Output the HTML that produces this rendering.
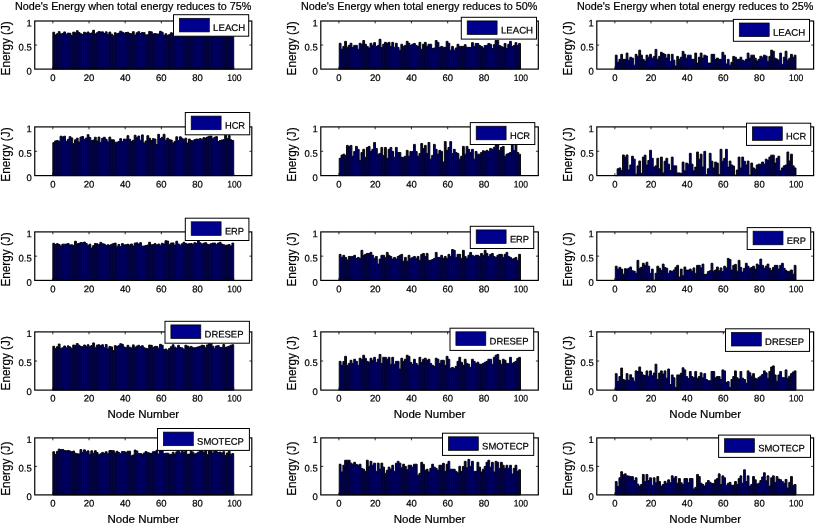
<!DOCTYPE html><html><head><meta charset="utf-8"><title>Node Energy</title><style>html,body{margin:0;padding:0;background:#fff}svg{display:block}text{font-family:"Liberation Sans",Arial,sans-serif;fill:#000;stroke:#000;stroke-width:0.22px}</style></head><body>
<svg width="815" height="527" viewBox="0 0 815 527">
<rect width="815" height="527" fill="#fff"/>
<defs><filter id="soft" x="0" y="0" width="815" height="527" filterUnits="userSpaceOnUse"><feGaussianBlur stdDeviation="0.35"/></filter></defs><g filter="url(#soft)">
<rect width="815" height="527" fill="#fff"/>
<path d="M52.84 69.10V32.26H54.65V34.95H56.45V33.75H58.26V31.63H60.07V33.94H61.88V33.51H63.69V31.92H65.50V34.13H67.31V33.12H69.12V33.27H70.93V35.43H72.73V32.11H74.54V32.74H76.35V30.76H78.16V32.50H79.97V33.75H81.78V34.42H83.59V32.26H85.40V33.12H87.20V31.97H89.01V33.55H90.82V32.98H92.63V30.28H94.44V33.99H96.25V32.74H98.06V31.53H99.87V31.97H101.67V31.87H103.48V33.51H105.29V31.87H107.10V34.32H108.91V32.11H110.72V34.13H112.53V35.77H114.34V32.74H116.14V33.75H117.95V33.12H119.76V31.15H121.57V32.11H123.38V33.31H125.19V32.50H127.00V32.30H128.81V33.51H130.61V33.75H132.42V31.68H134.23V35.09H136.04V32.83H137.85V31.68H139.66V33.51H141.47V32.50H143.28V32.64H145.08V34.90H146.89V34.76H148.70V31.44H150.51V31.87H152.32V33.99H154.13V33.51H155.94V33.94H157.75V33.99H159.55V31.29H161.36V32.26H163.17V35.43H164.98V33.75H166.79V35.62H168.60V34.61H170.41V32.74H172.22V33.41H174.02V33.75H175.83V33.75H177.64V32.98H179.45V34.13H181.26V34.28H183.07V33.99H184.88V31.77H186.69V33.55H188.49V32.30H190.30V32.30H192.11V33.31H193.92V34.04H195.73V34.13H197.54V33.02H199.35V33.12H201.16V32.30H202.96V32.64H204.77V34.61H206.58V32.83H208.39V30.76H210.20V30.91H212.01V33.31H213.82V33.70H215.62V34.13H217.43V31.97H219.24V35.09H221.05V32.83H222.86V31.10H224.67V33.89H226.48V33.31H228.29V31.97H230.09V33.17H231.90V32.30H233.71V69.10Z" fill="#050570" stroke="#000000" stroke-width="0.95" stroke-linejoin="miter"/>
<path d="M54.65 69.10V34.95M56.45 69.10V34.95M58.26 69.10V33.75M60.07 69.10V33.94M61.88 69.10V33.94M63.69 69.10V33.51M65.50 69.10V34.13M67.31 69.10V34.13M69.12 69.10V33.27M70.93 69.10V35.43M72.73 69.10V35.43M74.54 69.10V32.74M76.35 69.10V32.74M78.16 69.10V32.50M79.97 69.10V33.75M81.78 69.10V34.42M83.59 69.10V34.42M85.40 69.10V33.12M87.20 69.10V33.12M89.01 69.10V33.55M90.82 69.10V33.55M92.63 69.10V32.98M94.44 69.10V33.99M96.25 69.10V33.99M98.06 69.10V32.74M99.87 69.10V31.97M101.67 69.10V31.97M103.48 69.10V33.51M105.29 69.10V33.51M107.10 69.10V34.32M108.91 69.10V34.32M110.72 69.10V34.13M112.53 69.10V35.77M114.34 69.10V35.77M116.14 69.10V33.75M117.95 69.10V33.75M119.76 69.10V33.12M121.57 69.10V32.11M123.38 69.10V33.31M125.19 69.10V33.31M127.00 69.10V32.50M128.81 69.10V33.51M130.61 69.10V33.75M132.42 69.10V33.75M134.23 69.10V35.09M136.04 69.10V35.09M137.85 69.10V32.83M139.66 69.10V33.51M141.47 69.10V33.51M143.28 69.10V32.64M145.08 69.10V34.90M146.89 69.10V34.90M148.70 69.10V34.76M150.51 69.10V31.87M152.32 69.10V33.99M154.13 69.10V33.99M155.94 69.10V33.94M157.75 69.10V33.99M159.55 69.10V33.99M161.36 69.10V32.26M163.17 69.10V35.43M164.98 69.10V35.43M166.79 69.10V35.62M168.60 69.10V35.62M170.41 69.10V34.61M172.22 69.10V33.41M174.02 69.10V33.75M175.83 69.10V33.75M177.64 69.10V33.75M179.45 69.10V34.13M181.26 69.10V34.28M183.07 69.10V34.28M184.88 69.10V33.99M186.69 69.10V33.55M188.49 69.10V33.55M190.30 69.10V32.30M192.11 69.10V33.31M193.92 69.10V34.04M195.73 69.10V34.13M197.54 69.10V34.13M199.35 69.10V33.12M201.16 69.10V33.12M202.96 69.10V32.64M204.77 69.10V34.61M206.58 69.10V34.61M208.39 69.10V32.83M210.20 69.10V30.91M212.01 69.10V33.31M213.82 69.10V33.70M215.62 69.10V34.13M217.43 69.10V34.13M219.24 69.10V35.09M221.05 69.10V35.09M222.86 69.10V32.83M224.67 69.10V33.89M226.48 69.10V33.89M228.29 69.10V33.31M230.09 69.10V33.17M231.90 69.10V33.17" fill="none" stroke="#000000" stroke-width="0.55"/>
<rect x="34.75" y="21.00" width="217.05" height="48.10" fill="none" stroke="#000" stroke-width="1.2"/>
<path d="M52.84 69.10v-2.4M52.84 21.00v2.4M89.01 69.10v-2.4M89.01 21.00v2.4M125.19 69.10v-2.4M125.19 21.00v2.4M161.36 69.10v-2.4M161.36 21.00v2.4M197.54 69.10v-2.4M197.54 21.00v2.4M233.71 69.10v-2.4M233.71 21.00v2.4M34.75 45.05h2.4M251.80 45.05h-2.4" stroke="#000" stroke-width="0.8" fill="none"/>
<text transform="translate(52.84,81.00) rotate(0.03) scale(1,1)" font-size="9.5" text-anchor="middle">0</text>
<text transform="translate(89.01,81.00) rotate(0.03) scale(1,1)" font-size="9.5" text-anchor="middle">20</text>
<text transform="translate(125.19,81.00) rotate(0.03) scale(1,1)" font-size="9.5" text-anchor="middle">40</text>
<text transform="translate(161.36,81.00) rotate(0.03) scale(1,1)" font-size="9.5" text-anchor="middle">60</text>
<text transform="translate(197.54,81.00) rotate(0.03) scale(1,1)" font-size="9.5" text-anchor="middle">80</text>
<text transform="translate(234.41,81.00) rotate(0.03) scale(0.9,1)" font-size="9.5" text-anchor="middle">100</text>
<text transform="translate(31.75,74.50) rotate(0.03) scale(1,1)" font-size="9.5" text-anchor="end">0</text>
<text transform="translate(31.75,50.45) rotate(0.03) scale(1,1)" font-size="9.5" text-anchor="end">0.5</text>
<text transform="translate(31.75,26.40) rotate(0.03) scale(1,1)" font-size="9.5" text-anchor="end">1</text>
<text transform="translate(10.45,48.35) rotate(-90.02)" font-size="12.3" text-anchor="middle" textLength="54.2" lengthAdjust="spacingAndGlyphs">Energy (J)</text>
<text transform="translate(14.95,10.10) rotate(0.02)" font-size="10.8" textLength="236.4" lengthAdjust="spacingAndGlyphs">Node's Energy when total energy reduces to 75%</text>
<rect x="173.50" y="14.70" width="75.20" height="21.50" fill="#fff" stroke="#000" stroke-width="1"/>
<rect x="179.40" y="18.30" width="29.9" height="13.6" fill="#00008f" stroke="#000" stroke-width="0.7"/>
<text transform="translate(213.10,31.00) rotate(0.03)" font-size="9.5" textLength="32.2" lengthAdjust="spacingAndGlyphs">LEACH</text>
<path d="M52.84 175.60V142.63H54.65V140.93H56.45V140.54H58.26V141.27H60.07V136.20H61.88V136.88H63.69V136.20H65.50V141.41H67.31V139.37H69.12V136.64H70.93V137.91H72.73V143.65H74.54V139.81H76.35V138.20H78.16V142.09H79.97V137.08H81.78V136.49H83.59V139.37H85.40V138.10H87.20V134.69H89.01V137.52H90.82V140.39H92.63V140.05H94.44V137.27H96.25V141.02H98.06V137.08H99.87V142.44H101.67V138.25H103.48V137.27H105.29V139.27H107.10V141.75H108.91V137.08H110.72V139.81H112.53V139.81H114.34V142.19H116.14V142.19H117.95V141.56H119.76V138.64H121.57V141.56H123.38V139.07H125.19V139.27H127.00V135.67H128.81V139.27H130.61V141.56H132.42V140.24H134.23V135.23H136.04V137.66H137.85V136.06H139.66V140.24H141.47V134.89H143.28V143.02H145.08V141.02H146.89V135.67H148.70V138.25H150.51V140.54H152.32V138.64H154.13V139.07H155.94V144.48H157.75V134.30H159.55V138.49H161.36V137.27H163.17V134.30H164.98V140.24H166.79V138.20H168.60V139.66H170.41V140.05H172.22V143.02H174.02V141.41H175.83V136.79H177.64V140.54H179.45V136.79H181.26V138.25H183.07V139.66H184.88V138.20H186.69V143.02H188.49V139.07H190.30V140.54H192.11V140.78H193.92V139.66H195.73V139.07H197.54V139.27H199.35V138.64H201.16V139.27H202.96V137.66H204.77V138.10H206.58V137.08H208.39V136.25H210.20V136.10H212.01V138.78H213.82V137.27H215.62V136.64H217.43V141.56H219.24V140.54H221.05V140.05H222.86V139.66H224.67V135.23H226.48V138.44H228.29V135.57H230.09V139.81H231.90V140.54H233.71V175.60Z" fill="#050570" stroke="#000000" stroke-width="0.95" stroke-linejoin="miter"/>
<path d="M54.65 175.60V142.63M56.45 175.60V140.93M58.26 175.60V141.27M60.07 175.60V141.27M61.88 175.60V136.88M63.69 175.60V136.88M65.50 175.60V141.41M67.31 175.60V141.41M69.12 175.60V139.37M70.93 175.60V137.91M72.73 175.60V143.65M74.54 175.60V143.65M76.35 175.60V139.81M78.16 175.60V142.09M79.97 175.60V142.09M81.78 175.60V137.08M83.59 175.60V139.37M85.40 175.60V139.37M87.20 175.60V138.10M89.01 175.60V137.52M90.82 175.60V140.39M92.63 175.60V140.39M94.44 175.60V140.05M96.25 175.60V141.02M98.06 175.60V141.02M99.87 175.60V142.44M101.67 175.60V142.44M103.48 175.60V138.25M105.29 175.60V139.27M107.10 175.60V141.75M108.91 175.60V141.75M110.72 175.60V139.81M112.53 175.60V139.81M114.34 175.60V142.19M116.14 175.60V142.19M117.95 175.60V142.19M119.76 175.60V141.56M121.57 175.60V141.56M123.38 175.60V141.56M125.19 175.60V139.27M127.00 175.60V139.27M128.81 175.60V139.27M130.61 175.60V141.56M132.42 175.60V141.56M134.23 175.60V140.24M136.04 175.60V137.66M137.85 175.60V137.66M139.66 175.60V140.24M141.47 175.60V140.24M143.28 175.60V143.02M145.08 175.60V143.02M146.89 175.60V141.02M148.70 175.60V138.25M150.51 175.60V140.54M152.32 175.60V140.54M154.13 175.60V139.07M155.94 175.60V144.48M157.75 175.60V144.48M159.55 175.60V138.49M161.36 175.60V138.49M163.17 175.60V137.27M164.98 175.60V140.24M166.79 175.60V140.24M168.60 175.60V139.66M170.41 175.60V140.05M172.22 175.60V143.02M174.02 175.60V143.02M175.83 175.60V141.41M177.64 175.60V140.54M179.45 175.60V140.54M181.26 175.60V138.25M183.07 175.60V139.66M184.88 175.60V139.66M186.69 175.60V143.02M188.49 175.60V143.02M190.30 175.60V140.54M192.11 175.60V140.78M193.92 175.60V140.78M195.73 175.60V139.66M197.54 175.60V139.27M199.35 175.60V139.27M201.16 175.60V139.27M202.96 175.60V139.27M204.77 175.60V138.10M206.58 175.60V138.10M208.39 175.60V137.08M210.20 175.60V136.25M212.01 175.60V138.78M213.82 175.60V138.78M215.62 175.60V137.27M217.43 175.60V141.56M219.24 175.60V141.56M221.05 175.60V140.54M222.86 175.60V140.05M224.67 175.60V139.66M226.48 175.60V138.44M228.29 175.60V138.44M230.09 175.60V139.81M231.90 175.60V140.54" fill="none" stroke="#000000" stroke-width="0.55"/>
<rect x="34.75" y="126.90" width="217.05" height="48.70" fill="none" stroke="#000" stroke-width="1.2"/>
<path d="M52.84 175.60v-2.4M52.84 126.90v2.4M89.01 175.60v-2.4M89.01 126.90v2.4M125.19 175.60v-2.4M125.19 126.90v2.4M161.36 175.60v-2.4M161.36 126.90v2.4M197.54 175.60v-2.4M197.54 126.90v2.4M233.71 175.60v-2.4M233.71 126.90v2.4M34.75 151.25h2.4M251.80 151.25h-2.4" stroke="#000" stroke-width="0.8" fill="none"/>
<text transform="translate(52.84,187.50) rotate(0.03) scale(1,1)" font-size="9.5" text-anchor="middle">0</text>
<text transform="translate(89.01,187.50) rotate(0.03) scale(1,1)" font-size="9.5" text-anchor="middle">20</text>
<text transform="translate(125.19,187.50) rotate(0.03) scale(1,1)" font-size="9.5" text-anchor="middle">40</text>
<text transform="translate(161.36,187.50) rotate(0.03) scale(1,1)" font-size="9.5" text-anchor="middle">60</text>
<text transform="translate(197.54,187.50) rotate(0.03) scale(1,1)" font-size="9.5" text-anchor="middle">80</text>
<text transform="translate(234.41,187.50) rotate(0.03) scale(0.9,1)" font-size="9.5" text-anchor="middle">100</text>
<text transform="translate(31.75,181.00) rotate(0.03) scale(1,1)" font-size="9.5" text-anchor="end">0</text>
<text transform="translate(31.75,156.65) rotate(0.03) scale(1,1)" font-size="9.5" text-anchor="end">0.5</text>
<text transform="translate(31.75,132.30) rotate(0.03) scale(1,1)" font-size="9.5" text-anchor="end">1</text>
<text transform="translate(10.45,154.55) rotate(-90.02)" font-size="12.3" text-anchor="middle" textLength="54.2" lengthAdjust="spacingAndGlyphs">Energy (J)</text>
<rect x="185.30" y="112.50" width="64.40" height="22.30" fill="#fff" stroke="#000" stroke-width="1"/>
<rect x="191.20" y="116.10" width="29.9" height="13.6" fill="#00008f" stroke="#000" stroke-width="0.7"/>
<text transform="translate(224.90,128.80) rotate(0.03)" font-size="9.5" textLength="20.2" lengthAdjust="spacingAndGlyphs">HCR</text>
<path d="M52.84 280.40V243.25H54.65V244.51H56.45V243.64H58.26V244.46H60.07V245.97H61.88V244.17H63.69V244.22H65.50V244.12H67.31V243.59H69.12V245.00H70.93V244.80H72.73V245.43H74.54V241.26H76.35V243.83H78.16V243.39H79.97V242.52H81.78V242.86H83.59V242.09H85.40V243.49H87.20V245.43H89.01V244.22H90.82V248.00H92.63V245.63H94.44V243.49H96.25V243.83H98.06V244.70H99.87V242.38H101.67V243.69H103.48V244.12H105.29V245.63H107.10V244.75H108.91V245.33H110.72V244.36H112.53V243.64H114.34V243.10H116.14V246.74H117.95V244.46H119.76V246.55H121.57V243.59H123.38V244.90H125.19V244.66H127.00V244.22H128.81V245.09H130.61V244.03H132.42V245.92H134.23V243.10H136.04V242.86H137.85V244.03H139.66V242.67H141.47V246.11H143.28V246.06H145.08V245.43H146.89V245.00H148.70V242.28H150.51V244.80H152.32V244.61H154.13V243.59H155.94V244.95H157.75V244.03H159.55V245.14H161.36V243.25H163.17V244.03H164.98V240.73H166.79V241.12H168.60V244.66H170.41V243.10H172.22V242.91H174.02V245.09H175.83V241.26H177.64V243.98H179.45V245.24H181.26V243.83H183.07V242.28H184.88V243.49H186.69V244.12H188.49V243.69H190.30V243.49H192.11V244.22H193.92V242.67H195.73V243.35H197.54V241.07H199.35V242.86H201.16V244.12H202.96V243.25H204.77V242.67H206.58V244.12H208.39V244.70H210.20V243.69H212.01V243.10H213.82V243.10H215.62V244.46H217.43V243.10H219.24V242.28H221.05V244.12H222.86V244.70H224.67V245.33H226.48V245.09H228.29V244.61H230.09V246.06H231.90V243.10H233.71V280.40Z" fill="#050570" stroke="#000000" stroke-width="0.95" stroke-linejoin="miter"/>
<path d="M54.65 280.40V244.51M56.45 280.40V244.51M58.26 280.40V244.46M60.07 280.40V245.97M61.88 280.40V245.97M63.69 280.40V244.22M65.50 280.40V244.22M67.31 280.40V244.12M69.12 280.40V245.00M70.93 280.40V245.00M72.73 280.40V245.43M74.54 280.40V245.43M76.35 280.40V243.83M78.16 280.40V243.83M79.97 280.40V243.39M81.78 280.40V242.86M83.59 280.40V242.86M85.40 280.40V243.49M87.20 280.40V245.43M89.01 280.40V245.43M90.82 280.40V248.00M92.63 280.40V248.00M94.44 280.40V245.63M96.25 280.40V243.83M98.06 280.40V244.70M99.87 280.40V244.70M101.67 280.40V243.69M103.48 280.40V244.12M105.29 280.40V245.63M107.10 280.40V245.63M108.91 280.40V245.33M110.72 280.40V245.33M112.53 280.40V244.36M114.34 280.40V243.64M116.14 280.40V246.74M117.95 280.40V246.74M119.76 280.40V246.55M121.57 280.40V246.55M123.38 280.40V244.90M125.19 280.40V244.90M127.00 280.40V244.66M128.81 280.40V245.09M130.61 280.40V245.09M132.42 280.40V245.92M134.23 280.40V245.92M136.04 280.40V243.10M137.85 280.40V244.03M139.66 280.40V244.03M141.47 280.40V246.11M143.28 280.40V246.11M145.08 280.40V246.06M146.89 280.40V245.43M148.70 280.40V245.00M150.51 280.40V244.80M152.32 280.40V244.80M154.13 280.40V244.61M155.94 280.40V244.95M157.75 280.40V244.95M159.55 280.40V245.14M161.36 280.40V245.14M163.17 280.40V244.03M164.98 280.40V244.03M166.79 280.40V241.12M168.60 280.40V244.66M170.41 280.40V244.66M172.22 280.40V243.10M174.02 280.40V245.09M175.83 280.40V245.09M177.64 280.40V243.98M179.45 280.40V245.24M181.26 280.40V245.24M183.07 280.40V243.83M184.88 280.40V243.49M186.69 280.40V244.12M188.49 280.40V244.12M190.30 280.40V243.69M192.11 280.40V244.22M193.92 280.40V244.22M195.73 280.40V243.35M197.54 280.40V243.35M199.35 280.40V242.86M201.16 280.40V244.12M202.96 280.40V244.12M204.77 280.40V243.25M206.58 280.40V244.12M208.39 280.40V244.70M210.20 280.40V244.70M212.01 280.40V243.69M213.82 280.40V243.10M215.62 280.40V244.46M217.43 280.40V244.46M219.24 280.40V243.10M221.05 280.40V244.12M222.86 280.40V244.70M224.67 280.40V245.33M226.48 280.40V245.33M228.29 280.40V245.09M230.09 280.40V246.06M231.90 280.40V246.06" fill="none" stroke="#000000" stroke-width="0.55"/>
<rect x="34.75" y="231.90" width="217.05" height="48.50" fill="none" stroke="#000" stroke-width="1.2"/>
<path d="M52.84 280.40v-2.4M52.84 231.90v2.4M89.01 280.40v-2.4M89.01 231.90v2.4M125.19 280.40v-2.4M125.19 231.90v2.4M161.36 280.40v-2.4M161.36 231.90v2.4M197.54 280.40v-2.4M197.54 231.90v2.4M233.71 280.40v-2.4M233.71 231.90v2.4M34.75 256.15h2.4M251.80 256.15h-2.4" stroke="#000" stroke-width="0.8" fill="none"/>
<text transform="translate(52.84,292.30) rotate(0.03) scale(1,1)" font-size="9.5" text-anchor="middle">0</text>
<text transform="translate(89.01,292.30) rotate(0.03) scale(1,1)" font-size="9.5" text-anchor="middle">20</text>
<text transform="translate(125.19,292.30) rotate(0.03) scale(1,1)" font-size="9.5" text-anchor="middle">40</text>
<text transform="translate(161.36,292.30) rotate(0.03) scale(1,1)" font-size="9.5" text-anchor="middle">60</text>
<text transform="translate(197.54,292.30) rotate(0.03) scale(1,1)" font-size="9.5" text-anchor="middle">80</text>
<text transform="translate(234.41,292.30) rotate(0.03) scale(0.9,1)" font-size="9.5" text-anchor="middle">100</text>
<text transform="translate(31.75,285.80) rotate(0.03) scale(1,1)" font-size="9.5" text-anchor="end">0</text>
<text transform="translate(31.75,261.55) rotate(0.03) scale(1,1)" font-size="9.5" text-anchor="end">0.5</text>
<text transform="translate(31.75,237.30) rotate(0.03) scale(1,1)" font-size="9.5" text-anchor="end">1</text>
<text transform="translate(10.45,259.45) rotate(-90.02)" font-size="12.3" text-anchor="middle" textLength="54.2" lengthAdjust="spacingAndGlyphs">Energy (J)</text>
<rect x="185.30" y="218.20" width="63.60" height="22.30" fill="#fff" stroke="#000" stroke-width="1"/>
<rect x="191.20" y="221.80" width="29.9" height="13.6" fill="#00008f" stroke="#000" stroke-width="0.7"/>
<text transform="translate(224.90,234.50) rotate(0.03)" font-size="9.5" textLength="19.2" lengthAdjust="spacingAndGlyphs">ERP</text>
<path d="M52.84 390.10V346.22H54.65V348.55H56.45V346.74H58.26V344.06H60.07V348.20H61.88V347.85H63.69V345.98H65.50V347.85H67.31V345.87H69.12V346.92H70.93V348.43H72.73V345.00H74.54V345.40H76.35V343.60H78.16V345.23H79.97V346.45H81.78V346.74H83.59V345.00H85.40V346.39H87.20V344.76H89.01V346.80H90.82V345.58H92.63V342.90H94.44V347.73H96.25V345.11H98.06V344.76H99.87V345.75H101.67V344.76H103.48V347.73H105.29V344.47H107.10V348.78H108.91V346.45H110.72V346.92H112.53V350.47H114.34V345.64H116.14V346.45H117.95V345.64H119.76V343.71H121.57V344.35H123.38V346.97H125.19V347.73H127.00V345.34H128.81V347.21H130.61V347.90H132.42V344.88H134.23V347.26H136.04V346.16H137.85V345.29H139.66V346.68H141.47V345.69H143.28V347.73H145.08V348.37H146.89V348.66H148.70V345.05H150.51V345.34H152.32V347.44H154.13V346.45H155.94V346.45H157.75V348.20H159.55V344.35H161.36V345.23H163.17V349.42H164.98V349.07H166.79V350.17H168.60V348.43H170.41V346.68H172.22V344.76H174.02V347.15H175.83V348.08H177.64V345.34H179.45V347.50H181.26V347.90H183.07V349.30H184.88V345.23H186.69V346.10H188.49V347.15H190.30V346.45H192.11V347.73H193.92V347.85H195.73V347.38H197.54V346.86H199.35V346.33H201.16V345.23H202.96V345.58H204.77V347.73H206.58V344.88H208.39V343.60H210.20V343.19H212.01V346.16H213.82V348.20H215.62V345.93H217.43V345.64H219.24V347.38H221.05V347.44H222.86V344.59H224.67V347.50H226.48V346.86H228.29V346.22H230.09V345.23H231.90V344.76H233.71V390.10Z" fill="#050570" stroke="#000000" stroke-width="0.95" stroke-linejoin="miter"/>
<path d="M54.65 390.10V348.55M56.45 390.10V348.55M58.26 390.10V346.74M60.07 390.10V348.20M61.88 390.10V348.20M63.69 390.10V347.85M65.50 390.10V347.85M67.31 390.10V347.85M69.12 390.10V346.92M70.93 390.10V348.43M72.73 390.10V348.43M74.54 390.10V345.40M76.35 390.10V345.40M78.16 390.10V345.23M79.97 390.10V346.45M81.78 390.10V346.74M83.59 390.10V346.74M85.40 390.10V346.39M87.20 390.10V346.39M89.01 390.10V346.80M90.82 390.10V346.80M92.63 390.10V345.58M94.44 390.10V347.73M96.25 390.10V347.73M98.06 390.10V345.11M99.87 390.10V345.75M101.67 390.10V345.75M103.48 390.10V347.73M105.29 390.10V347.73M107.10 390.10V348.78M108.91 390.10V348.78M110.72 390.10V346.92M112.53 390.10V350.47M114.34 390.10V350.47M116.14 390.10V346.45M117.95 390.10V346.45M119.76 390.10V345.64M121.57 390.10V344.35M123.38 390.10V346.97M125.19 390.10V347.73M127.00 390.10V347.73M128.81 390.10V347.21M130.61 390.10V347.90M132.42 390.10V347.90M134.23 390.10V347.26M136.04 390.10V347.26M137.85 390.10V346.16M139.66 390.10V346.68M141.47 390.10V346.68M143.28 390.10V347.73M145.08 390.10V348.37M146.89 390.10V348.66M148.70 390.10V348.66M150.51 390.10V345.34M152.32 390.10V347.44M154.13 390.10V347.44M155.94 390.10V346.45M157.75 390.10V348.20M159.55 390.10V348.20M161.36 390.10V345.23M163.17 390.10V349.42M164.98 390.10V349.42M166.79 390.10V350.17M168.60 390.10V350.17M170.41 390.10V348.43M172.22 390.10V346.68M174.02 390.10V347.15M175.83 390.10V348.08M177.64 390.10V348.08M179.45 390.10V347.50M181.26 390.10V347.90M183.07 390.10V349.30M184.88 390.10V349.30M186.69 390.10V346.10M188.49 390.10V347.15M190.30 390.10V347.15M192.11 390.10V347.73M193.92 390.10V347.85M195.73 390.10V347.85M197.54 390.10V347.38M199.35 390.10V346.86M201.16 390.10V346.33M202.96 390.10V345.58M204.77 390.10V347.73M206.58 390.10V347.73M208.39 390.10V344.88M210.20 390.10V343.60M212.01 390.10V346.16M213.82 390.10V348.20M215.62 390.10V348.20M217.43 390.10V345.93M219.24 390.10V347.38M221.05 390.10V347.44M222.86 390.10V347.44M224.67 390.10V347.50M226.48 390.10V347.50M228.29 390.10V346.86M230.09 390.10V346.22M231.90 390.10V345.23" fill="none" stroke="#000000" stroke-width="0.55"/>
<rect x="34.75" y="331.90" width="217.05" height="58.20" fill="none" stroke="#000" stroke-width="1.2"/>
<path d="M52.84 390.10v-2.4M52.84 331.90v2.4M89.01 390.10v-2.4M89.01 331.90v2.4M125.19 390.10v-2.4M125.19 331.90v2.4M161.36 390.10v-2.4M161.36 331.90v2.4M197.54 390.10v-2.4M197.54 331.90v2.4M233.71 390.10v-2.4M233.71 331.90v2.4M34.75 361.00h2.4M251.80 361.00h-2.4" stroke="#000" stroke-width="0.8" fill="none"/>
<text transform="translate(52.84,401.60) rotate(0.03) scale(1,1)" font-size="9.5" text-anchor="middle">0</text>
<text transform="translate(89.01,401.60) rotate(0.03) scale(1,1)" font-size="9.5" text-anchor="middle">20</text>
<text transform="translate(125.19,401.60) rotate(0.03) scale(1,1)" font-size="9.5" text-anchor="middle">40</text>
<text transform="translate(161.36,401.60) rotate(0.03) scale(1,1)" font-size="9.5" text-anchor="middle">60</text>
<text transform="translate(197.54,401.60) rotate(0.03) scale(1,1)" font-size="9.5" text-anchor="middle">80</text>
<text transform="translate(234.41,401.60) rotate(0.03) scale(0.9,1)" font-size="9.5" text-anchor="middle">100</text>
<text transform="translate(31.75,395.10) rotate(0.03) scale(1,1)" font-size="9.5" text-anchor="end">0</text>
<text transform="translate(31.75,366.00) rotate(0.03) scale(1,1)" font-size="9.5" text-anchor="end">0.5</text>
<text transform="translate(31.75,336.90) rotate(0.03) scale(1,1)" font-size="9.5" text-anchor="end">1</text>
<text transform="translate(10.45,363.30) rotate(-90.02)" font-size="12.3" text-anchor="middle" textLength="54.2" lengthAdjust="spacingAndGlyphs">Energy (J)</text>
<text transform="translate(143.28,418.30) rotate(0.02)" font-size="11.5" text-anchor="middle" textLength="71.7" lengthAdjust="spacingAndGlyphs">Node Number</text>
<rect x="165.00" y="321.30" width="84.40" height="21.90" fill="#fff" stroke="#000" stroke-width="1"/>
<rect x="170.90" y="324.90" width="29.9" height="13.6" fill="#00008f" stroke="#000" stroke-width="0.7"/>
<text transform="translate(204.60,337.60) rotate(0.03)" font-size="9.5" textLength="38.9" lengthAdjust="spacingAndGlyphs">DRESEP</text>
<path d="M52.84 494.90V451.75H54.65V454.49H56.45V451.41H58.26V449.13H60.07V449.64H61.88V449.47H63.69V450.55H65.50V450.84H67.31V450.44H69.12V451.01H70.93V451.86H72.73V451.12H74.54V453.23H76.35V453.75H78.16V454.03H79.97V449.58H81.78V452.26H83.59V449.87H85.40V451.86H87.20V450.84H89.01V454.14H90.82V450.84H92.63V453.23H94.44V450.67H96.25V452.49H98.06V454.77H99.87V453.75H101.67V452.44H103.48V453.29H105.29V451.75H107.10V453.75H108.91V450.55H110.72V450.50H112.53V450.67H114.34V452.95H116.14V451.24H117.95V452.49H119.76V453.63H121.57V451.52H123.38V451.52H125.19V452.66H127.00V451.24H128.81V451.24H130.61V455.80H132.42V455.00H134.23V450.10H136.04V450.95H137.85V453.52H139.66V453.52H141.47V454.43H143.28V453.00H145.08V451.58H146.89V452.61H148.70V453.06H150.51V453.57H152.32V451.75H154.13V451.52H155.94V450.27H157.75V454.03H159.55V450.78H161.36V450.38H163.17V453.63H164.98V453.29H166.79V453.18H168.60V454.14H170.41V454.49H172.22V452.26H174.02V454.03H175.83V451.81H177.64V450.10H179.45V452.95H181.26V448.62H183.07V452.26H184.88V450.10H186.69V454.32H188.49V454.03H190.30V450.44H192.11V452.21H193.92V454.09H195.73V453.29H197.54V452.15H199.35V450.50H201.16V449.30H202.96V452.32H204.77V450.33H206.58V454.43H208.39V450.38H210.20V450.33H212.01V452.95H213.82V450.44H215.62V451.58H217.43V452.49H219.24V452.04H221.05V453.06H222.86V451.69H224.67V455.28H226.48V452.95H228.29V451.18H230.09V454.14H231.90V453.63H233.71V494.90Z" fill="#050570" stroke="#000000" stroke-width="0.95" stroke-linejoin="miter"/>
<path d="M54.65 494.90V454.49M56.45 494.90V454.49M58.26 494.90V451.41M60.07 494.90V449.64M61.88 494.90V449.64M63.69 494.90V450.55M65.50 494.90V450.84M67.31 494.90V450.84M69.12 494.90V451.01M70.93 494.90V451.86M72.73 494.90V451.86M74.54 494.90V453.23M76.35 494.90V453.75M78.16 494.90V454.03M79.97 494.90V454.03M81.78 494.90V452.26M83.59 494.90V452.26M85.40 494.90V451.86M87.20 494.90V451.86M89.01 494.90V454.14M90.82 494.90V454.14M92.63 494.90V453.23M94.44 494.90V453.23M96.25 494.90V452.49M98.06 494.90V454.77M99.87 494.90V454.77M101.67 494.90V453.75M103.48 494.90V453.29M105.29 494.90V453.29M107.10 494.90V453.75M108.91 494.90V453.75M110.72 494.90V450.55M112.53 494.90V450.67M114.34 494.90V452.95M116.14 494.90V452.95M117.95 494.90V452.49M119.76 494.90V453.63M121.57 494.90V453.63M123.38 494.90V451.52M125.19 494.90V452.66M127.00 494.90V452.66M128.81 494.90V451.24M130.61 494.90V455.80M132.42 494.90V455.80M134.23 494.90V455.00M136.04 494.90V450.95M137.85 494.90V453.52M139.66 494.90V453.52M141.47 494.90V454.43M143.28 494.90V454.43M145.08 494.90V453.00M146.89 494.90V452.61M148.70 494.90V453.06M150.51 494.90V453.57M152.32 494.90V453.57M154.13 494.90V451.75M155.94 494.90V451.52M157.75 494.90V454.03M159.55 494.90V454.03M161.36 494.90V450.78M163.17 494.90V453.63M164.98 494.90V453.63M166.79 494.90V453.29M168.60 494.90V454.14M170.41 494.90V454.49M172.22 494.90V454.49M174.02 494.90V454.03M175.83 494.90V454.03M177.64 494.90V451.81M179.45 494.90V452.95M181.26 494.90V452.95M183.07 494.90V452.26M184.88 494.90V452.26M186.69 494.90V454.32M188.49 494.90V454.32M190.30 494.90V454.03M192.11 494.90V452.21M193.92 494.90V454.09M195.73 494.90V454.09M197.54 494.90V453.29M199.35 494.90V452.15M201.16 494.90V450.50M202.96 494.90V452.32M204.77 494.90V452.32M206.58 494.90V454.43M208.39 494.90V454.43M210.20 494.90V450.38M212.01 494.90V452.95M213.82 494.90V452.95M215.62 494.90V451.58M217.43 494.90V452.49M219.24 494.90V452.49M221.05 494.90V453.06M222.86 494.90V453.06M224.67 494.90V455.28M226.48 494.90V455.28M228.29 494.90V452.95M230.09 494.90V454.14M231.90 494.90V454.14" fill="none" stroke="#000000" stroke-width="0.55"/>
<rect x="34.75" y="437.90" width="217.05" height="57.00" fill="none" stroke="#000" stroke-width="1.2"/>
<path d="M52.84 494.90v-2.4M52.84 437.90v2.4M89.01 494.90v-2.4M89.01 437.90v2.4M125.19 494.90v-2.4M125.19 437.90v2.4M161.36 494.90v-2.4M161.36 437.90v2.4M197.54 494.90v-2.4M197.54 437.90v2.4M233.71 494.90v-2.4M233.71 437.90v2.4M34.75 466.40h2.4M251.80 466.40h-2.4" stroke="#000" stroke-width="0.8" fill="none"/>
<text transform="translate(52.84,506.40) rotate(0.03) scale(1,1)" font-size="9.5" text-anchor="middle">0</text>
<text transform="translate(89.01,506.40) rotate(0.03) scale(1,1)" font-size="9.5" text-anchor="middle">20</text>
<text transform="translate(125.19,506.40) rotate(0.03) scale(1,1)" font-size="9.5" text-anchor="middle">40</text>
<text transform="translate(161.36,506.40) rotate(0.03) scale(1,1)" font-size="9.5" text-anchor="middle">60</text>
<text transform="translate(197.54,506.40) rotate(0.03) scale(1,1)" font-size="9.5" text-anchor="middle">80</text>
<text transform="translate(234.41,506.40) rotate(0.03) scale(0.9,1)" font-size="9.5" text-anchor="middle">100</text>
<text transform="translate(31.75,499.90) rotate(0.03) scale(1,1)" font-size="9.5" text-anchor="end">0</text>
<text transform="translate(31.75,471.40) rotate(0.03) scale(1,1)" font-size="9.5" text-anchor="end">0.5</text>
<text transform="translate(31.75,442.90) rotate(0.03) scale(1,1)" font-size="9.5" text-anchor="end">1</text>
<text transform="translate(10.45,468.70) rotate(-90.02)" font-size="12.3" text-anchor="middle" textLength="54.2" lengthAdjust="spacingAndGlyphs">Energy (J)</text>
<text transform="translate(143.28,523.10) rotate(0.02)" font-size="11.5" text-anchor="middle" textLength="71.7" lengthAdjust="spacingAndGlyphs">Node Number</text>
<rect x="157.50" y="428.50" width="91.90" height="21.90" fill="#fff" stroke="#000" stroke-width="1"/>
<rect x="163.40" y="432.10" width="29.9" height="13.6" fill="#00008f" stroke="#000" stroke-width="0.7"/>
<text transform="translate(197.10,444.80) rotate(0.03)" font-size="9.5" textLength="46.7" lengthAdjust="spacingAndGlyphs">SMOTECP</text>
<path d="M339.23 69.10V43.27H341.04V49.28H342.85V46.40H344.66V41.35H346.48V47.21H348.29V45.39H350.10V43.27H351.91V47.36H353.73V45.39H355.54V45.39H357.35V49.28H359.16V43.27H360.98V44.28H362.79V40.53H364.60V44.28H366.41V46.40H368.23V48.03H370.04V43.27H371.85V45.39H373.66V42.64H375.48V46.40H377.29V45.39H379.10V39.28H380.91V47.36H382.73V44.28H384.54V42.36H386.35V43.27H388.16V42.36H389.98V46.40H391.79V42.36H393.60V47.36H395.41V43.27H397.23V47.36H399.04V50.15H400.85V44.28H402.66V46.40H404.48V45.39H406.29V41.35H408.10V43.27H409.91V45.53H411.72V44.28H413.54V43.46H415.35V45.39H417.16V46.40H418.97V42.36H420.79V49.28H422.60V44.28H424.41V42.36H426.22V46.40H428.04V44.28H429.85V44.28H431.66V48.47H433.47V48.03H435.29V40.53H437.10V42.36H438.91V47.36H440.72V46.40H442.54V47.21H444.35V47.36H446.16V41.35H447.97V43.27H449.79V50.15H451.60V46.40H453.41V50.15H455.22V48.03H457.04V44.28H458.85V46.40H460.66V46.40H462.47V46.40H464.29V44.71H466.10V47.36H467.91V47.36H469.72V47.36H471.54V42.64H473.35V46.40H475.16V43.46H476.97V43.46H478.79V45.53H480.60V46.40H482.41V48.03H484.22V45.53H486.04V45.39H487.85V43.46H489.66V44.28H491.47V48.47H493.29V44.71H495.10V40.53H496.91V40.53H498.72V45.53H500.54V46.40H502.35V47.36H504.16V43.46H505.97V48.47H507.79V44.28H509.60V41.35H511.41V46.40H513.22V45.53H515.04V42.64H516.85V45.53H518.66V43.46H520.47V69.10Z" fill="#050570" stroke="#000000" stroke-width="0.95" stroke-linejoin="miter"/>
<path d="M341.04 69.10V49.28M342.85 69.10V49.28M344.66 69.10V46.40M346.48 69.10V47.21M348.29 69.10V47.21M350.10 69.10V45.39M351.91 69.10V47.36M353.73 69.10V47.36M355.54 69.10V45.39M357.35 69.10V49.28M359.16 69.10V49.28M360.98 69.10V44.28M362.79 69.10V44.28M364.60 69.10V44.28M366.41 69.10V46.40M368.23 69.10V48.03M370.04 69.10V48.03M371.85 69.10V45.39M373.66 69.10V45.39M375.48 69.10V46.40M377.29 69.10V46.40M379.10 69.10V45.39M380.91 69.10V47.36M382.73 69.10V47.36M384.54 69.10V44.28M386.35 69.10V43.27M388.16 69.10V43.27M389.98 69.10V46.40M391.79 69.10V46.40M393.60 69.10V47.36M395.41 69.10V47.36M397.23 69.10V47.36M399.04 69.10V50.15M400.85 69.10V50.15M402.66 69.10V46.40M404.48 69.10V46.40M406.29 69.10V45.39M408.10 69.10V43.27M409.91 69.10V45.53M411.72 69.10V45.53M413.54 69.10V44.28M415.35 69.10V45.39M417.16 69.10V46.40M418.97 69.10V46.40M420.79 69.10V49.28M422.60 69.10V49.28M424.41 69.10V44.28M426.22 69.10V46.40M428.04 69.10V46.40M429.85 69.10V44.28M431.66 69.10V48.47M433.47 69.10V48.47M435.29 69.10V48.03M437.10 69.10V42.36M438.91 69.10V47.36M440.72 69.10V47.36M442.54 69.10V47.21M444.35 69.10V47.36M446.16 69.10V47.36M447.97 69.10V43.27M449.79 69.10V50.15M451.60 69.10V50.15M453.41 69.10V50.15M455.22 69.10V50.15M457.04 69.10V48.03M458.85 69.10V46.40M460.66 69.10V46.40M462.47 69.10V46.40M464.29 69.10V46.40M466.10 69.10V47.36M467.91 69.10V47.36M469.72 69.10V47.36M471.54 69.10V47.36M473.35 69.10V46.40M475.16 69.10V46.40M476.97 69.10V43.46M478.79 69.10V45.53M480.60 69.10V46.40M482.41 69.10V48.03M484.22 69.10V48.03M486.04 69.10V45.53M487.85 69.10V45.39M489.66 69.10V44.28M491.47 69.10V48.47M493.29 69.10V48.47M495.10 69.10V44.71M496.91 69.10V40.53M498.72 69.10V45.53M500.54 69.10V46.40M502.35 69.10V47.36M504.16 69.10V47.36M505.97 69.10V48.47M507.79 69.10V48.47M509.60 69.10V44.28M511.41 69.10V46.40M513.22 69.10V46.40M515.04 69.10V45.53M516.85 69.10V45.53M518.66 69.10V45.53" fill="none" stroke="#000000" stroke-width="0.55"/>
<rect x="320.80" y="21.00" width="217.50" height="48.10" fill="none" stroke="#000" stroke-width="1.2"/>
<path d="M338.93 69.10v-2.4M338.93 21.00v2.4M375.18 69.10v-2.4M375.18 21.00v2.4M411.42 69.10v-2.4M411.42 21.00v2.4M447.67 69.10v-2.4M447.67 21.00v2.4M483.92 69.10v-2.4M483.92 21.00v2.4M520.17 69.10v-2.4M520.17 21.00v2.4M320.80 45.05h2.4M538.30 45.05h-2.4" stroke="#000" stroke-width="0.8" fill="none"/>
<text transform="translate(338.93,81.00) rotate(0.03) scale(1,1)" font-size="9.5" text-anchor="middle">0</text>
<text transform="translate(375.18,81.00) rotate(0.03) scale(1,1)" font-size="9.5" text-anchor="middle">20</text>
<text transform="translate(411.42,81.00) rotate(0.03) scale(1,1)" font-size="9.5" text-anchor="middle">40</text>
<text transform="translate(447.67,81.00) rotate(0.03) scale(1,1)" font-size="9.5" text-anchor="middle">60</text>
<text transform="translate(483.92,81.00) rotate(0.03) scale(1,1)" font-size="9.5" text-anchor="middle">80</text>
<text transform="translate(520.88,81.00) rotate(0.03) scale(0.9,1)" font-size="9.5" text-anchor="middle">100</text>
<text transform="translate(317.80,74.50) rotate(0.03) scale(1,1)" font-size="9.5" text-anchor="end">0</text>
<text transform="translate(317.80,50.45) rotate(0.03) scale(1,1)" font-size="9.5" text-anchor="end">0.5</text>
<text transform="translate(317.80,26.40) rotate(0.03) scale(1,1)" font-size="9.5" text-anchor="end">1</text>
<text transform="translate(295.90,48.35) rotate(-90.02)" font-size="12.3" text-anchor="middle" textLength="54.2" lengthAdjust="spacingAndGlyphs">Energy (J)</text>
<text transform="translate(301.00,10.10) rotate(0.02)" font-size="10.8" textLength="236.4" lengthAdjust="spacingAndGlyphs">Node's Energy when total energy reduces to 50%</text>
<rect x="461.30" y="17.30" width="75.20" height="21.80" fill="#fff" stroke="#000" stroke-width="1"/>
<rect x="467.20" y="20.90" width="29.9" height="13.6" fill="#00008f" stroke="#000" stroke-width="0.7"/>
<text transform="translate(500.90,33.60) rotate(0.03)" font-size="9.5" textLength="32.2" lengthAdjust="spacingAndGlyphs">LEACH</text>
<path d="M339.23 175.60V158.31H341.04V155.15H342.85V154.17H344.66V155.39H346.48V145.41H348.29V146.62H350.10V145.41H351.91V156.22H353.73V151.44H355.54V146.38H357.35V149.35H359.16V160.41H360.98V152.47H362.79V149.35H364.60V157.29H366.41V147.45H368.23V146.38H370.04V151.44H371.85V149.35H373.66V142.48H375.48V148.47H377.29V154.17H379.10V153.44H380.91V147.45H382.73V155.39H384.54V147.45H386.35V158.31H388.16V149.35H389.98V147.45H391.79V151.44H393.60V157.29H395.41V147.45H397.23V152.47H399.04V152.47H400.85V157.29H402.66V157.29H404.48V156.22H406.29V150.37H408.10V156.22H409.91V151.44H411.72V151.44H413.54V144.38H415.35V151.44H417.16V156.22H418.97V153.44H420.79V143.46H422.60V148.47H424.41V145.41H426.22V153.44H428.04V142.48H429.85V159.14H431.66V155.39H433.47V144.38H435.29V149.35H437.10V154.17H438.91V150.37H440.72V151.44H442.54V162.06H444.35V141.61H446.16V150.37H447.97V147.45H449.79V141.61H451.60V153.44H453.41V149.35H455.22V152.47H457.04V153.44H458.85V159.14H460.66V156.22H462.47V146.38H464.29V154.17H466.10V146.38H467.91V149.35H469.72V152.47H471.54V149.35H473.35V159.14H475.16V151.44H476.97V154.17H478.79V154.17H480.60V152.47H482.41V150.81H484.22V151.44H486.04V150.37H487.85V151.44H489.66V148.47H491.47V149.35H493.29V147.45H495.10V145.41H496.91V144.92H498.72V150.37H500.54V147.45H502.35V146.38H504.16V156.22H505.97V154.17H507.79V153.44H509.60V152.47H511.41V143.46H513.22V150.37H515.04V143.46H516.85V152.47H518.66V154.17H520.47V175.60Z" fill="#050570" stroke="#000000" stroke-width="0.95" stroke-linejoin="miter"/>
<path d="M341.04 175.60V158.31M342.85 175.60V155.15M344.66 175.60V155.39M346.48 175.60V155.39M348.29 175.60V146.62M350.10 175.60V146.62M351.91 175.60V156.22M353.73 175.60V156.22M355.54 175.60V151.44M357.35 175.60V149.35M359.16 175.60V160.41M360.98 175.60V160.41M362.79 175.60V152.47M364.60 175.60V157.29M366.41 175.60V157.29M368.23 175.60V147.45M370.04 175.60V151.44M371.85 175.60V151.44M373.66 175.60V149.35M375.48 175.60V148.47M377.29 175.60V154.17M379.10 175.60V154.17M380.91 175.60V153.44M382.73 175.60V155.39M384.54 175.60V155.39M386.35 175.60V158.31M388.16 175.60V158.31M389.98 175.60V149.35M391.79 175.60V151.44M393.60 175.60V157.29M395.41 175.60V157.29M397.23 175.60V152.47M399.04 175.60V152.47M400.85 175.60V157.29M402.66 175.60V157.29M404.48 175.60V157.29M406.29 175.60V156.22M408.10 175.60V156.22M409.91 175.60V156.22M411.72 175.60V151.44M413.54 175.60V151.44M415.35 175.60V151.44M417.16 175.60V156.22M418.97 175.60V156.22M420.79 175.60V153.44M422.60 175.60V148.47M424.41 175.60V148.47M426.22 175.60V153.44M428.04 175.60V153.44M429.85 175.60V159.14M431.66 175.60V159.14M433.47 175.60V155.39M435.29 175.60V149.35M437.10 175.60V154.17M438.91 175.60V154.17M440.72 175.60V151.44M442.54 175.60V162.06M444.35 175.60V162.06M446.16 175.60V150.37M447.97 175.60V150.37M449.79 175.60V147.45M451.60 175.60V153.44M453.41 175.60V153.44M455.22 175.60V152.47M457.04 175.60V153.44M458.85 175.60V159.14M460.66 175.60V159.14M462.47 175.60V156.22M464.29 175.60V154.17M466.10 175.60V154.17M467.91 175.60V149.35M469.72 175.60V152.47M471.54 175.60V152.47M473.35 175.60V159.14M475.16 175.60V159.14M476.97 175.60V154.17M478.79 175.60V154.17M480.60 175.60V154.17M482.41 175.60V152.47M484.22 175.60V151.44M486.04 175.60V151.44M487.85 175.60V151.44M489.66 175.60V151.44M491.47 175.60V149.35M493.29 175.60V149.35M495.10 175.60V147.45M496.91 175.60V145.41M498.72 175.60V150.37M500.54 175.60V150.37M502.35 175.60V147.45M504.16 175.60V156.22M505.97 175.60V156.22M507.79 175.60V154.17M509.60 175.60V153.44M511.41 175.60V152.47M513.22 175.60V150.37M515.04 175.60V150.37M516.85 175.60V152.47M518.66 175.60V154.17" fill="none" stroke="#000000" stroke-width="0.55"/>
<rect x="320.80" y="126.90" width="217.50" height="48.70" fill="none" stroke="#000" stroke-width="1.2"/>
<path d="M338.93 175.60v-2.4M338.93 126.90v2.4M375.18 175.60v-2.4M375.18 126.90v2.4M411.42 175.60v-2.4M411.42 126.90v2.4M447.67 175.60v-2.4M447.67 126.90v2.4M483.92 175.60v-2.4M483.92 126.90v2.4M520.17 175.60v-2.4M520.17 126.90v2.4M320.80 151.25h2.4M538.30 151.25h-2.4" stroke="#000" stroke-width="0.8" fill="none"/>
<text transform="translate(338.93,187.50) rotate(0.03) scale(1,1)" font-size="9.5" text-anchor="middle">0</text>
<text transform="translate(375.18,187.50) rotate(0.03) scale(1,1)" font-size="9.5" text-anchor="middle">20</text>
<text transform="translate(411.42,187.50) rotate(0.03) scale(1,1)" font-size="9.5" text-anchor="middle">40</text>
<text transform="translate(447.67,187.50) rotate(0.03) scale(1,1)" font-size="9.5" text-anchor="middle">60</text>
<text transform="translate(483.92,187.50) rotate(0.03) scale(1,1)" font-size="9.5" text-anchor="middle">80</text>
<text transform="translate(520.88,187.50) rotate(0.03) scale(0.9,1)" font-size="9.5" text-anchor="middle">100</text>
<text transform="translate(317.80,181.00) rotate(0.03) scale(1,1)" font-size="9.5" text-anchor="end">0</text>
<text transform="translate(317.80,156.65) rotate(0.03) scale(1,1)" font-size="9.5" text-anchor="end">0.5</text>
<text transform="translate(317.80,132.30) rotate(0.03) scale(1,1)" font-size="9.5" text-anchor="end">1</text>
<text transform="translate(295.90,154.55) rotate(-90.02)" font-size="12.3" text-anchor="middle" textLength="54.2" lengthAdjust="spacingAndGlyphs">Energy (J)</text>
<rect x="470.30" y="122.60" width="64.50" height="21.90" fill="#fff" stroke="#000" stroke-width="1"/>
<rect x="476.20" y="126.20" width="29.9" height="13.6" fill="#00008f" stroke="#000" stroke-width="0.7"/>
<text transform="translate(509.90,138.90) rotate(0.03)" font-size="9.5" textLength="20.2" lengthAdjust="spacingAndGlyphs">HCR</text>
<path d="M339.23 280.40V254.36H341.04V257.41H342.85V255.33H344.66V257.41H346.48V259.93H348.29V256.44H350.10V256.44H351.91V256.44H353.73V255.33H355.54V258.43H357.35V257.41H359.16V258.43H360.98V250.33H362.79V255.33H364.60V254.36H366.41V253.43H368.23V253.43H370.04V252.42H371.85V255.33H373.66V258.43H375.48V256.44H377.29V264.10H379.10V259.11H380.91V255.33H382.73V255.33H384.54V257.41H386.35V252.42H388.16V255.33H389.98V256.44H391.79V259.11H393.60V257.41H395.41V259.11H397.23V256.44H399.04V255.33H400.85V254.36H402.66V261.19H404.48V257.41H406.29V261.19H408.10V255.33H409.91V258.43H411.72V257.41H413.54V256.44H415.35V258.43H417.16V256.44H418.97V260.37H420.79V254.36H422.60V253.43H424.41V256.44H426.22V253.43H428.04V260.37H429.85V260.37H431.66V259.50H433.47V258.43H435.29V252.42H437.10V257.41H438.91V257.41H440.72V255.33H442.54V258.24H444.35V256.44H446.16V258.43H447.97V254.36H449.79V256.44H451.60V249.51H453.41V250.33H455.22V257.41H457.04V254.36H458.85V254.36H460.66V258.43H462.47V250.33H464.29V256.44H466.10V258.43H467.91V255.33H469.72V252.42H471.54V255.33H473.35V256.44H475.16V255.33H476.97V255.33H478.79V256.44H480.60V253.43H482.41V255.33H484.22V250.33H486.04V253.43H487.85V256.44H489.66V254.36H491.47V253.43H493.29V256.44H495.10V257.41H496.91V255.33H498.72V254.36H500.54V254.36H502.35V257.41H504.16V254.36H505.97V252.42H507.79V256.44H509.60V257.41H511.41V259.11H513.22V258.43H515.04V257.41H516.85V260.37H518.66V254.36H520.47V280.40Z" fill="#050570" stroke="#000000" stroke-width="0.95" stroke-linejoin="miter"/>
<path d="M341.04 280.40V257.41M342.85 280.40V257.41M344.66 280.40V257.41M346.48 280.40V259.93M348.29 280.40V259.93M350.10 280.40V256.44M351.91 280.40V256.44M353.73 280.40V256.44M355.54 280.40V258.43M357.35 280.40V258.43M359.16 280.40V258.43M360.98 280.40V258.43M362.79 280.40V255.33M364.60 280.40V255.33M366.41 280.40V254.36M368.23 280.40V253.43M370.04 280.40V253.43M371.85 280.40V255.33M373.66 280.40V258.43M375.48 280.40V258.43M377.29 280.40V264.10M379.10 280.40V264.10M380.91 280.40V259.11M382.73 280.40V255.33M384.54 280.40V257.41M386.35 280.40V257.41M388.16 280.40V255.33M389.98 280.40V256.44M391.79 280.40V259.11M393.60 280.40V259.11M395.41 280.40V259.11M397.23 280.40V259.11M399.04 280.40V256.44M400.85 280.40V255.33M402.66 280.40V261.19M404.48 280.40V261.19M406.29 280.40V261.19M408.10 280.40V261.19M409.91 280.40V258.43M411.72 280.40V258.43M413.54 280.40V257.41M415.35 280.40V258.43M417.16 280.40V258.43M418.97 280.40V260.37M420.79 280.40V260.37M422.60 280.40V254.36M424.41 280.40V256.44M426.22 280.40V256.44M428.04 280.40V260.37M429.85 280.40V260.37M431.66 280.40V260.37M433.47 280.40V259.50M435.29 280.40V258.43M437.10 280.40V257.41M438.91 280.40V257.41M440.72 280.40V257.41M442.54 280.40V258.24M444.35 280.40V258.24M446.16 280.40V258.43M447.97 280.40V258.43M449.79 280.40V256.44M451.60 280.40V256.44M453.41 280.40V250.33M455.22 280.40V257.41M457.04 280.40V257.41M458.85 280.40V254.36M460.66 280.40V258.43M462.47 280.40V258.43M464.29 280.40V256.44M466.10 280.40V258.43M467.91 280.40V258.43M469.72 280.40V255.33M471.54 280.40V255.33M473.35 280.40V256.44M475.16 280.40V256.44M476.97 280.40V255.33M478.79 280.40V256.44M480.60 280.40V256.44M482.41 280.40V255.33M484.22 280.40V255.33M486.04 280.40V253.43M487.85 280.40V256.44M489.66 280.40V256.44M491.47 280.40V254.36M493.29 280.40V256.44M495.10 280.40V257.41M496.91 280.40V257.41M498.72 280.40V255.33M500.54 280.40V254.36M502.35 280.40V257.41M504.16 280.40V257.41M505.97 280.40V254.36M507.79 280.40V256.44M509.60 280.40V257.41M511.41 280.40V259.11M513.22 280.40V259.11M515.04 280.40V258.43M516.85 280.40V260.37M518.66 280.40V260.37" fill="none" stroke="#000000" stroke-width="0.55"/>
<rect x="320.80" y="231.90" width="217.50" height="48.50" fill="none" stroke="#000" stroke-width="1.2"/>
<path d="M338.93 280.40v-2.4M338.93 231.90v2.4M375.18 280.40v-2.4M375.18 231.90v2.4M411.42 280.40v-2.4M411.42 231.90v2.4M447.67 280.40v-2.4M447.67 231.90v2.4M483.92 280.40v-2.4M483.92 231.90v2.4M520.17 280.40v-2.4M520.17 231.90v2.4M320.80 256.15h2.4M538.30 256.15h-2.4" stroke="#000" stroke-width="0.8" fill="none"/>
<text transform="translate(338.93,292.30) rotate(0.03) scale(1,1)" font-size="9.5" text-anchor="middle">0</text>
<text transform="translate(375.18,292.30) rotate(0.03) scale(1,1)" font-size="9.5" text-anchor="middle">20</text>
<text transform="translate(411.42,292.30) rotate(0.03) scale(1,1)" font-size="9.5" text-anchor="middle">40</text>
<text transform="translate(447.67,292.30) rotate(0.03) scale(1,1)" font-size="9.5" text-anchor="middle">60</text>
<text transform="translate(483.92,292.30) rotate(0.03) scale(1,1)" font-size="9.5" text-anchor="middle">80</text>
<text transform="translate(520.88,292.30) rotate(0.03) scale(0.9,1)" font-size="9.5" text-anchor="middle">100</text>
<text transform="translate(317.80,285.80) rotate(0.03) scale(1,1)" font-size="9.5" text-anchor="end">0</text>
<text transform="translate(317.80,261.55) rotate(0.03) scale(1,1)" font-size="9.5" text-anchor="end">0.5</text>
<text transform="translate(317.80,237.30) rotate(0.03) scale(1,1)" font-size="9.5" text-anchor="end">1</text>
<text transform="translate(295.90,259.45) rotate(-90.02)" font-size="12.3" text-anchor="middle" textLength="54.2" lengthAdjust="spacingAndGlyphs">Energy (J)</text>
<rect x="470.30" y="226.30" width="63.40" height="22.20" fill="#fff" stroke="#000" stroke-width="1"/>
<rect x="476.20" y="229.90" width="29.9" height="13.6" fill="#00008f" stroke="#000" stroke-width="0.7"/>
<text transform="translate(509.90,242.60) rotate(0.03)" font-size="9.5" textLength="19.2" lengthAdjust="spacingAndGlyphs">ERP</text>
<path d="M339.23 390.10V361.35H341.04V365.31H342.85V361.52H344.66V356.34H346.48V365.31H348.29V363.39H350.10V360.30H351.91V363.39H353.73V359.25H355.54V361.35H357.35V365.31H359.16V358.21H360.98V359.43H362.79V355.24H364.60V358.38H366.41V361.35H368.23V362.22H370.04V358.21H371.85V360.30H373.66V357.33H375.48V362.34H377.29V359.25H379.10V354.42H380.91V363.39H382.73V357.33H384.54V357.33H386.35V359.25H388.16V357.33H389.98V364.26H391.79V357.33H393.60V364.26H395.41V361.35H397.23V361.35H399.04V369.03H400.85V358.21H402.66V361.35H404.48V359.25H406.29V355.24H408.10V356.34H409.91V362.34H411.72V364.26H413.54V359.25H415.35V363.39H417.16V365.31H418.97V357.33H420.79V362.34H422.60V359.25H424.41V358.21H426.22V360.30H428.04V359.25H429.85V363.39H431.66V365.31H433.47V366.35H435.29V358.21H437.10V359.25H438.91V363.39H440.72V360.30H442.54V360.30H444.35V365.31H446.16V356.34H447.97V359.25H449.79V368.39H451.60V367.40H453.41V368.39H455.22V366.35H457.04V361.35H458.85V357.33H460.66V362.34H462.47V365.31H464.29V359.25H466.10V363.39H467.91V364.26H469.72V367.40H471.54V359.25H473.35V361.35H475.16V363.39H476.97V362.22H478.79V364.26H480.60V364.26H482.41V363.39H484.22V362.22H486.04V361.35H487.85V359.25H489.66V359.25H491.47V364.26H493.29V357.33H495.10V355.24H496.91V354.42H498.72V360.30H500.54V364.26H502.35V359.25H504.16V360.30H505.97V363.39H507.79V363.39H509.60V357.33H511.41V363.39H513.22V362.34H515.04V361.35H516.85V358.38H518.66V357.33H520.47V390.10Z" fill="#050570" stroke="#000000" stroke-width="0.95" stroke-linejoin="miter"/>
<path d="M341.04 390.10V365.31M342.85 390.10V365.31M344.66 390.10V361.52M346.48 390.10V365.31M348.29 390.10V365.31M350.10 390.10V363.39M351.91 390.10V363.39M353.73 390.10V363.39M355.54 390.10V361.35M357.35 390.10V365.31M359.16 390.10V365.31M360.98 390.10V359.43M362.79 390.10V359.43M364.60 390.10V358.38M366.41 390.10V361.35M368.23 390.10V362.22M370.04 390.10V362.22M371.85 390.10V360.30M373.66 390.10V360.30M375.48 390.10V362.34M377.29 390.10V362.34M379.10 390.10V359.25M380.91 390.10V363.39M382.73 390.10V363.39M384.54 390.10V357.33M386.35 390.10V359.25M388.16 390.10V359.25M389.98 390.10V364.26M391.79 390.10V364.26M393.60 390.10V364.26M395.41 390.10V364.26M397.23 390.10V361.35M399.04 390.10V369.03M400.85 390.10V369.03M402.66 390.10V361.35M404.48 390.10V361.35M406.29 390.10V359.25M408.10 390.10V356.34M409.91 390.10V362.34M411.72 390.10V364.26M413.54 390.10V364.26M415.35 390.10V363.39M417.16 390.10V365.31M418.97 390.10V365.31M420.79 390.10V362.34M422.60 390.10V362.34M424.41 390.10V359.25M426.22 390.10V360.30M428.04 390.10V360.30M429.85 390.10V363.39M431.66 390.10V365.31M433.47 390.10V366.35M435.29 390.10V366.35M437.10 390.10V359.25M438.91 390.10V363.39M440.72 390.10V363.39M442.54 390.10V360.30M444.35 390.10V365.31M446.16 390.10V365.31M447.97 390.10V359.25M449.79 390.10V368.39M451.60 390.10V368.39M453.41 390.10V368.39M455.22 390.10V368.39M457.04 390.10V366.35M458.85 390.10V361.35M460.66 390.10V362.34M462.47 390.10V365.31M464.29 390.10V365.31M466.10 390.10V363.39M467.91 390.10V364.26M469.72 390.10V367.40M471.54 390.10V367.40M473.35 390.10V361.35M475.16 390.10V363.39M476.97 390.10V363.39M478.79 390.10V364.26M480.60 390.10V364.26M482.41 390.10V364.26M484.22 390.10V363.39M486.04 390.10V362.22M487.85 390.10V361.35M489.66 390.10V359.25M491.47 390.10V364.26M493.29 390.10V364.26M495.10 390.10V357.33M496.91 390.10V355.24M498.72 390.10V360.30M500.54 390.10V364.26M502.35 390.10V364.26M504.16 390.10V360.30M505.97 390.10V363.39M507.79 390.10V363.39M509.60 390.10V363.39M511.41 390.10V363.39M513.22 390.10V363.39M515.04 390.10V362.34M516.85 390.10V361.35M518.66 390.10V358.38" fill="none" stroke="#000000" stroke-width="0.55"/>
<rect x="320.80" y="331.90" width="217.50" height="58.20" fill="none" stroke="#000" stroke-width="1.2"/>
<path d="M338.93 390.10v-2.4M338.93 331.90v2.4M375.18 390.10v-2.4M375.18 331.90v2.4M411.42 390.10v-2.4M411.42 331.90v2.4M447.67 390.10v-2.4M447.67 331.90v2.4M483.92 390.10v-2.4M483.92 331.90v2.4M520.17 390.10v-2.4M520.17 331.90v2.4M320.80 361.00h2.4M538.30 361.00h-2.4" stroke="#000" stroke-width="0.8" fill="none"/>
<text transform="translate(338.93,401.60) rotate(0.03) scale(1,1)" font-size="9.5" text-anchor="middle">0</text>
<text transform="translate(375.18,401.60) rotate(0.03) scale(1,1)" font-size="9.5" text-anchor="middle">20</text>
<text transform="translate(411.42,401.60) rotate(0.03) scale(1,1)" font-size="9.5" text-anchor="middle">40</text>
<text transform="translate(447.67,401.60) rotate(0.03) scale(1,1)" font-size="9.5" text-anchor="middle">60</text>
<text transform="translate(483.92,401.60) rotate(0.03) scale(1,1)" font-size="9.5" text-anchor="middle">80</text>
<text transform="translate(520.88,401.60) rotate(0.03) scale(0.9,1)" font-size="9.5" text-anchor="middle">100</text>
<text transform="translate(317.80,395.10) rotate(0.03) scale(1,1)" font-size="9.5" text-anchor="end">0</text>
<text transform="translate(317.80,366.00) rotate(0.03) scale(1,1)" font-size="9.5" text-anchor="end">0.5</text>
<text transform="translate(317.80,336.90) rotate(0.03) scale(1,1)" font-size="9.5" text-anchor="end">1</text>
<text transform="translate(295.90,363.30) rotate(-90.02)" font-size="12.3" text-anchor="middle" textLength="54.2" lengthAdjust="spacingAndGlyphs">Energy (J)</text>
<text transform="translate(429.55,418.30) rotate(0.02)" font-size="11.5" text-anchor="middle" textLength="71.7" lengthAdjust="spacingAndGlyphs">Node Number</text>
<rect x="450.00" y="328.20" width="83.70" height="22.20" fill="#fff" stroke="#000" stroke-width="1"/>
<rect x="455.90" y="331.80" width="29.9" height="13.6" fill="#00008f" stroke="#000" stroke-width="0.7"/>
<text transform="translate(489.60,344.50) rotate(0.03)" font-size="9.5" textLength="38.9" lengthAdjust="spacingAndGlyphs">DRESEP</text>
<path d="M339.23 494.90V464.23H341.04V471.93H342.85V465.26H344.66V460.24H346.48V460.24H348.29V460.24H350.10V463.15H351.91V464.23H353.73V462.30H355.54V464.40H357.35V465.26H359.16V464.23H360.98V468.34H362.79V469.25H364.60V471.36H366.41V460.24H368.23V466.34H370.04V461.33H371.85V465.26H373.66V463.15H375.48V471.36H377.29V463.15H379.10V469.25H380.91V463.15H382.73V467.14H384.54V473.35H386.35V470.28H388.16V467.14H389.98V469.25H391.79V465.26H393.60V471.36H395.41V463.32H397.23V461.33H399.04V463.15H400.85V467.77H402.66V464.23H404.48V466.34H406.29V469.82H408.10V465.26H409.91V465.26H411.72V467.14H413.54V464.23H415.35V464.23H417.16V475.29H418.97V473.35H420.79V462.30H422.60V464.40H424.41V470.28H426.22V469.25H428.04V471.93H429.85V468.34H431.66V464.23H433.47V467.14H435.29V468.34H437.10V470.28H438.91V465.26H440.72V465.26H442.54V463.32H444.35V471.36H446.16V464.23H447.97V461.33H449.79V469.25H451.60V469.25H453.41V469.25H455.22V471.36H457.04V472.78H458.85V466.34H460.66V471.36H462.47V466.51H464.29V461.33H466.10V467.77H467.91V459.39H469.72V466.34H471.54V461.33H473.35V471.36H475.16V471.36H476.97V462.30H478.79V467.14H480.60V471.93H482.41V469.25H484.22V466.51H486.04V462.30H487.85V460.24H489.66V467.14H491.47V462.30H493.29V471.93H495.10V461.33H496.91V462.30H498.72V468.34H500.54V462.30H502.35V465.26H504.16V468.34H505.97V465.26H507.79V468.34H509.60V465.26H511.41V474.04H513.22V468.34H515.04V465.26H516.85V471.36H518.66V469.82H520.47V494.90Z" fill="#050570" stroke="#000000" stroke-width="0.95" stroke-linejoin="miter"/>
<path d="M341.04 494.90V471.93M342.85 494.90V471.93M344.66 494.90V465.26M346.48 494.90V460.24M348.29 494.90V460.24M350.10 494.90V463.15M351.91 494.90V464.23M353.73 494.90V464.23M355.54 494.90V464.40M357.35 494.90V465.26M359.16 494.90V465.26M360.98 494.90V468.34M362.79 494.90V469.25M364.60 494.90V471.36M366.41 494.90V471.36M368.23 494.90V466.34M370.04 494.90V466.34M371.85 494.90V465.26M373.66 494.90V465.26M375.48 494.90V471.36M377.29 494.90V471.36M379.10 494.90V469.25M380.91 494.90V469.25M382.73 494.90V467.14M384.54 494.90V473.35M386.35 494.90V473.35M388.16 494.90V470.28M389.98 494.90V469.25M391.79 494.90V469.25M393.60 494.90V471.36M395.41 494.90V471.36M397.23 494.90V463.32M399.04 494.90V463.15M400.85 494.90V467.77M402.66 494.90V467.77M404.48 494.90V466.34M406.29 494.90V469.82M408.10 494.90V469.82M409.91 494.90V465.26M411.72 494.90V467.14M413.54 494.90V467.14M415.35 494.90V464.23M417.16 494.90V475.29M418.97 494.90V475.29M420.79 494.90V473.35M422.60 494.90V464.40M424.41 494.90V470.28M426.22 494.90V470.28M428.04 494.90V471.93M429.85 494.90V471.93M431.66 494.90V468.34M433.47 494.90V467.14M435.29 494.90V468.34M437.10 494.90V470.28M438.91 494.90V470.28M440.72 494.90V465.26M442.54 494.90V465.26M444.35 494.90V471.36M446.16 494.90V471.36M447.97 494.90V464.23M449.79 494.90V469.25M451.60 494.90V469.25M453.41 494.90V469.25M455.22 494.90V471.36M457.04 494.90V472.78M458.85 494.90V472.78M460.66 494.90V471.36M462.47 494.90V471.36M464.29 494.90V466.51M466.10 494.90V467.77M467.91 494.90V467.77M469.72 494.90V466.34M471.54 494.90V466.34M473.35 494.90V471.36M475.16 494.90V471.36M476.97 494.90V471.36M478.79 494.90V467.14M480.60 494.90V471.93M482.41 494.90V471.93M484.22 494.90V469.25M486.04 494.90V466.51M487.85 494.90V462.30M489.66 494.90V467.14M491.47 494.90V467.14M493.29 494.90V471.93M495.10 494.90V471.93M496.91 494.90V462.30M498.72 494.90V468.34M500.54 494.90V468.34M502.35 494.90V465.26M504.16 494.90V468.34M505.97 494.90V468.34M507.79 494.90V468.34M509.60 494.90V468.34M511.41 494.90V474.04M513.22 494.90V474.04M515.04 494.90V468.34M516.85 494.90V471.36M518.66 494.90V471.36" fill="none" stroke="#000000" stroke-width="0.55"/>
<rect x="320.80" y="437.90" width="217.50" height="57.00" fill="none" stroke="#000" stroke-width="1.2"/>
<path d="M338.93 494.90v-2.4M338.93 437.90v2.4M375.18 494.90v-2.4M375.18 437.90v2.4M411.42 494.90v-2.4M411.42 437.90v2.4M447.67 494.90v-2.4M447.67 437.90v2.4M483.92 494.90v-2.4M483.92 437.90v2.4M520.17 494.90v-2.4M520.17 437.90v2.4M320.80 466.40h2.4M538.30 466.40h-2.4" stroke="#000" stroke-width="0.8" fill="none"/>
<text transform="translate(338.93,506.40) rotate(0.03) scale(1,1)" font-size="9.5" text-anchor="middle">0</text>
<text transform="translate(375.18,506.40) rotate(0.03) scale(1,1)" font-size="9.5" text-anchor="middle">20</text>
<text transform="translate(411.42,506.40) rotate(0.03) scale(1,1)" font-size="9.5" text-anchor="middle">40</text>
<text transform="translate(447.67,506.40) rotate(0.03) scale(1,1)" font-size="9.5" text-anchor="middle">60</text>
<text transform="translate(483.92,506.40) rotate(0.03) scale(1,1)" font-size="9.5" text-anchor="middle">80</text>
<text transform="translate(520.88,506.40) rotate(0.03) scale(0.9,1)" font-size="9.5" text-anchor="middle">100</text>
<text transform="translate(317.80,499.90) rotate(0.03) scale(1,1)" font-size="9.5" text-anchor="end">0</text>
<text transform="translate(317.80,471.40) rotate(0.03) scale(1,1)" font-size="9.5" text-anchor="end">0.5</text>
<text transform="translate(317.80,442.90) rotate(0.03) scale(1,1)" font-size="9.5" text-anchor="end">1</text>
<text transform="translate(295.90,468.70) rotate(-90.02)" font-size="12.3" text-anchor="middle" textLength="54.2" lengthAdjust="spacingAndGlyphs">Energy (J)</text>
<text transform="translate(429.55,523.10) rotate(0.02)" font-size="11.5" text-anchor="middle" textLength="71.7" lengthAdjust="spacingAndGlyphs">Node Number</text>
<rect x="442.50" y="433.20" width="91.20" height="22.20" fill="#fff" stroke="#000" stroke-width="1"/>
<rect x="448.40" y="436.80" width="29.9" height="13.6" fill="#00008f" stroke="#000" stroke-width="0.7"/>
<text transform="translate(482.10,449.50) rotate(0.03)" font-size="9.5" textLength="46.7" lengthAdjust="spacingAndGlyphs">SMOTECP</text>
<path d="M615.32 69.10V55.15H617.12V62.27H618.93V59.34H620.74V54.33H622.54V59.34H624.35V59.34H626.16V53.08H627.96V60.15H629.77V57.22H631.58V58.09H633.38V65.16H635.19V54.33H637.00V56.40H638.80V50.15H640.61V55.15H642.42V59.34H644.22V61.02H646.03V55.15H647.84V57.22H649.64V54.33H651.45V58.23H653.26V56.40H655.06V49.38H656.87V59.34H658.68V56.40H660.48V52.27H662.29V53.47H664.10V54.33H665.90V58.09H667.71V54.33H669.52V61.40H671.32V54.33H673.13V60.15H674.94V66.02H676.74V56.40H678.55V59.34H680.36V57.22H682.16V51.40H683.97V54.33H685.78V58.23H687.58V55.15H689.39V55.15H691.20V59.34H693.00V59.34H694.81V53.08H696.62V63.09H698.42V57.22H700.23V53.08H702.04V58.09H703.84V55.15H705.65V55.97H707.46V63.09H709.26V63.09H711.07V54.33H712.88V54.33H714.68V59.34H716.49V58.09H718.30V59.34H720.10V59.34H721.91V52.27H723.72V55.15H725.52V63.91H727.33V59.34H729.14V65.16H730.94V62.27H732.75V56.40H734.56V57.22H736.36V59.34H738.17V59.34H739.98V57.22H741.78V60.15H743.59V61.02H745.40V59.34H747.20V53.08H749.01V58.23H750.82V55.15H752.62V55.15H754.43V58.23H756.24V61.02H758.04V59.34H759.85V56.26H761.66V57.22H763.46V55.15H765.27V55.97H767.08V61.40H768.88V56.40H770.69V50.15H772.50V51.21H774.30V58.23H776.11V59.10H777.92V60.15H779.72V53.08H781.53V64.34H783.34V57.22H785.14V51.21H786.95V60.15H788.76V58.23H790.56V54.33H792.37V57.22H794.18V55.15H795.98V69.10Z" fill="#050570" stroke="#000000" stroke-width="0.95" stroke-linejoin="miter"/>
<path d="M617.12 69.10V62.27M618.93 69.10V62.27M620.74 69.10V59.34M622.54 69.10V59.34M624.35 69.10V59.34M626.16 69.10V59.34M627.96 69.10V60.15M629.77 69.10V60.15M631.58 69.10V58.09M633.38 69.10V65.16M635.19 69.10V65.16M637.00 69.10V56.40M638.80 69.10V56.40M640.61 69.10V55.15M642.42 69.10V59.34M644.22 69.10V61.02M646.03 69.10V61.02M647.84 69.10V57.22M649.64 69.10V57.22M651.45 69.10V58.23M653.26 69.10V58.23M655.06 69.10V56.40M656.87 69.10V59.34M658.68 69.10V59.34M660.48 69.10V56.40M662.29 69.10V53.47M664.10 69.10V54.33M665.90 69.10V58.09M667.71 69.10V58.09M669.52 69.10V61.40M671.32 69.10V61.40M673.13 69.10V60.15M674.94 69.10V66.02M676.74 69.10V66.02M678.55 69.10V59.34M680.36 69.10V59.34M682.16 69.10V57.22M683.97 69.10V54.33M685.78 69.10V58.23M687.58 69.10V58.23M689.39 69.10V55.15M691.20 69.10V59.34M693.00 69.10V59.34M694.81 69.10V59.34M696.62 69.10V63.09M698.42 69.10V63.09M700.23 69.10V57.22M702.04 69.10V58.09M703.84 69.10V58.09M705.65 69.10V55.97M707.46 69.10V63.09M709.26 69.10V63.09M711.07 69.10V63.09M712.88 69.10V54.33M714.68 69.10V59.34M716.49 69.10V59.34M718.30 69.10V59.34M720.10 69.10V59.34M721.91 69.10V59.34M723.72 69.10V55.15M725.52 69.10V63.91M727.33 69.10V63.91M729.14 69.10V65.16M730.94 69.10V65.16M732.75 69.10V62.27M734.56 69.10V57.22M736.36 69.10V59.34M738.17 69.10V59.34M739.98 69.10V59.34M741.78 69.10V60.15M743.59 69.10V61.02M745.40 69.10V61.02M747.20 69.10V59.34M749.01 69.10V58.23M750.82 69.10V58.23M752.62 69.10V55.15M754.43 69.10V58.23M756.24 69.10V61.02M758.04 69.10V61.02M759.85 69.10V59.34M761.66 69.10V57.22M763.46 69.10V57.22M765.27 69.10V55.97M767.08 69.10V61.40M768.88 69.10V61.40M770.69 69.10V56.40M772.50 69.10V51.21M774.30 69.10V58.23M776.11 69.10V59.10M777.92 69.10V60.15M779.72 69.10V60.15M781.53 69.10V64.34M783.34 69.10V64.34M785.14 69.10V57.22M786.95 69.10V60.15M788.76 69.10V60.15M790.56 69.10V58.23M792.37 69.10V57.22M794.18 69.10V57.22" fill="none" stroke="#000000" stroke-width="0.55"/>
<rect x="596.80" y="21.00" width="216.80" height="48.10" fill="none" stroke="#000" stroke-width="1.2"/>
<path d="M614.87 69.10v-2.4M614.87 21.00v2.4M651.00 69.10v-2.4M651.00 21.00v2.4M687.13 69.10v-2.4M687.13 21.00v2.4M723.27 69.10v-2.4M723.27 21.00v2.4M759.40 69.10v-2.4M759.40 21.00v2.4M795.53 69.10v-2.4M795.53 21.00v2.4M596.80 45.05h2.4M813.60 45.05h-2.4" stroke="#000" stroke-width="0.8" fill="none"/>
<text transform="translate(614.87,81.00) rotate(0.03) scale(1,1)" font-size="9.5" text-anchor="middle">0</text>
<text transform="translate(651.00,81.00) rotate(0.03) scale(1,1)" font-size="9.5" text-anchor="middle">20</text>
<text transform="translate(687.13,81.00) rotate(0.03) scale(1,1)" font-size="9.5" text-anchor="middle">40</text>
<text transform="translate(723.27,81.00) rotate(0.03) scale(1,1)" font-size="9.5" text-anchor="middle">60</text>
<text transform="translate(759.40,81.00) rotate(0.03) scale(1,1)" font-size="9.5" text-anchor="middle">80</text>
<text transform="translate(796.23,81.00) rotate(0.03) scale(0.9,1)" font-size="9.5" text-anchor="middle">100</text>
<text transform="translate(593.80,74.50) rotate(0.03) scale(1,1)" font-size="9.5" text-anchor="end">0</text>
<text transform="translate(593.80,50.45) rotate(0.03) scale(1,1)" font-size="9.5" text-anchor="end">0.5</text>
<text transform="translate(593.80,26.40) rotate(0.03) scale(1,1)" font-size="9.5" text-anchor="end">1</text>
<text transform="translate(571.90,48.35) rotate(-90.02)" font-size="12.3" text-anchor="middle" textLength="54.2" lengthAdjust="spacingAndGlyphs">Energy (J)</text>
<text transform="translate(577.00,10.10) rotate(0.02)" font-size="10.8" textLength="236.4" lengthAdjust="spacingAndGlyphs">Node's Energy when total energy reduces to 25%</text>
<rect x="733.40" y="19.40" width="76.10" height="21.90" fill="#fff" stroke="#000" stroke-width="1"/>
<rect x="739.30" y="23.00" width="29.9" height="13.6" fill="#00008f" stroke="#000" stroke-width="0.7"/>
<text transform="translate(773.00,35.70) rotate(0.03)" font-size="9.5" textLength="32.2" lengthAdjust="spacingAndGlyphs">LEACH</text>
<path d="M615.32 175.60V175.60H617.12V168.78H618.93V167.91H620.74V170.44H622.54V154.95H624.35V157.09H626.16V154.95H627.96V170.00H629.77V164.98H631.58V156.22H633.38V159.14H635.19V174.14H637.00V165.86H638.80V160.99H640.61V173.36H642.42V157.09H644.22V155.15H646.03V164.98H647.84V160.41H649.64V150.28H651.45V158.31H653.26V167.08H655.06V165.86H656.87V158.31H658.68V168.78H660.48V157.09H662.29V172.92H664.10V161.23H665.90V158.31H667.71V164.16H669.52V170.44H671.32V157.09H673.13V165.86H674.94V165.86H676.74V172.92H678.55V172.92H680.36V173.36H682.16V162.06H683.97V170.83H685.78V163.08H687.58V164.16H689.39V153.30H691.20V164.16H693.00V170.83H694.81V167.08H696.62V152.03H698.42V159.14H700.23V154.17H702.04V167.08H703.84V151.40H705.65V174.63H707.46V168.78H709.26V153.30H711.07V161.23H712.88V167.91H714.68V162.06H716.49V163.08H718.30V174.63H720.10V149.30H721.91V161.23H723.72V158.31H725.52V149.30H727.33V167.08H729.14V161.09H730.94V164.98H732.75V166.10H734.56V175.11H736.36V170.00H738.17V157.09H739.98V167.91H741.78V157.09H743.59V161.23H745.40V164.98H747.20V161.09H749.01V175.11H750.82V163.08H752.62V167.91H754.43V169.27H756.24V164.98H758.04V164.16H759.85V164.16H761.66V162.06H763.46V164.16H765.27V159.14H767.08V160.41H768.88V157.09H770.69V155.15H772.50V155.15H774.30V163.08H776.11V158.31H777.92V156.22H779.72V170.83H781.53V167.91H783.34V165.86H785.14V164.98H786.95V152.03H788.76V160.99H790.56V154.17H792.37V165.86H794.18V167.91H795.98V175.60Z" fill="#050570" stroke="#000000" stroke-width="0.95" stroke-linejoin="miter"/>
<path d="M617.12 175.60V175.60M618.93 175.60V168.78M620.74 175.60V170.44M622.54 175.60V170.44M624.35 175.60V157.09M626.16 175.60V157.09M627.96 175.60V170.00M629.77 175.60V170.00M631.58 175.60V164.98M633.38 175.60V159.14M635.19 175.60V174.14M637.00 175.60V174.14M638.80 175.60V165.86M640.61 175.60V173.36M642.42 175.60V173.36M644.22 175.60V157.09M646.03 175.60V164.98M647.84 175.60V164.98M649.64 175.60V160.41M651.45 175.60V158.31M653.26 175.60V167.08M655.06 175.60V167.08M656.87 175.60V165.86M658.68 175.60V168.78M660.48 175.60V168.78M662.29 175.60V172.92M664.10 175.60V172.92M665.90 175.60V161.23M667.71 175.60V164.16M669.52 175.60V170.44M671.32 175.60V170.44M673.13 175.60V165.86M674.94 175.60V165.86M676.74 175.60V172.92M678.55 175.60V172.92M680.36 175.60V173.36M682.16 175.60V173.36M683.97 175.60V170.83M685.78 175.60V170.83M687.58 175.60V164.16M689.39 175.60V164.16M691.20 175.60V164.16M693.00 175.60V170.83M694.81 175.60V170.83M696.62 175.60V167.08M698.42 175.60V159.14M700.23 175.60V159.14M702.04 175.60V167.08M703.84 175.60V167.08M705.65 175.60V174.63M707.46 175.60V174.63M709.26 175.60V168.78M711.07 175.60V161.23M712.88 175.60V167.91M714.68 175.60V167.91M716.49 175.60V163.08M718.30 175.60V174.63M720.10 175.60V174.63M721.91 175.60V161.23M723.72 175.60V161.23M725.52 175.60V158.31M727.33 175.60V167.08M729.14 175.60V167.08M730.94 175.60V164.98M732.75 175.60V166.10M734.56 175.60V175.11M736.36 175.60V175.11M738.17 175.60V170.00M739.98 175.60V167.91M741.78 175.60V167.91M743.59 175.60V161.23M745.40 175.60V164.98M747.20 175.60V164.98M749.01 175.60V175.11M750.82 175.60V175.11M752.62 175.60V167.91M754.43 175.60V169.27M756.24 175.60V169.27M758.04 175.60V164.98M759.85 175.60V164.16M761.66 175.60V164.16M763.46 175.60V164.16M765.27 175.60V164.16M767.08 175.60V160.41M768.88 175.60V160.41M770.69 175.60V157.09M772.50 175.60V155.15M774.30 175.60V163.08M776.11 175.60V163.08M777.92 175.60V158.31M779.72 175.60V170.83M781.53 175.60V170.83M783.34 175.60V167.91M785.14 175.60V165.86M786.95 175.60V164.98M788.76 175.60V160.99M790.56 175.60V160.99M792.37 175.60V165.86M794.18 175.60V167.91" fill="none" stroke="#000000" stroke-width="0.55"/>
<rect x="596.80" y="126.90" width="216.80" height="48.70" fill="none" stroke="#000" stroke-width="1.2"/>
<path d="M614.87 175.60v-2.4M614.87 126.90v2.4M651.00 175.60v-2.4M651.00 126.90v2.4M687.13 175.60v-2.4M687.13 126.90v2.4M723.27 175.60v-2.4M723.27 126.90v2.4M759.40 175.60v-2.4M759.40 126.90v2.4M795.53 175.60v-2.4M795.53 126.90v2.4M596.80 151.25h2.4M813.60 151.25h-2.4" stroke="#000" stroke-width="0.8" fill="none"/>
<text transform="translate(614.87,187.50) rotate(0.03) scale(1,1)" font-size="9.5" text-anchor="middle">0</text>
<text transform="translate(651.00,187.50) rotate(0.03) scale(1,1)" font-size="9.5" text-anchor="middle">20</text>
<text transform="translate(687.13,187.50) rotate(0.03) scale(1,1)" font-size="9.5" text-anchor="middle">40</text>
<text transform="translate(723.27,187.50) rotate(0.03) scale(1,1)" font-size="9.5" text-anchor="middle">60</text>
<text transform="translate(759.40,187.50) rotate(0.03) scale(1,1)" font-size="9.5" text-anchor="middle">80</text>
<text transform="translate(796.23,187.50) rotate(0.03) scale(0.9,1)" font-size="9.5" text-anchor="middle">100</text>
<text transform="translate(593.80,181.00) rotate(0.03) scale(1,1)" font-size="9.5" text-anchor="end">0</text>
<text transform="translate(593.80,156.65) rotate(0.03) scale(1,1)" font-size="9.5" text-anchor="end">0.5</text>
<text transform="translate(593.80,132.30) rotate(0.03) scale(1,1)" font-size="9.5" text-anchor="end">1</text>
<text transform="translate(571.90,154.55) rotate(-90.02)" font-size="12.3" text-anchor="middle" textLength="54.2" lengthAdjust="spacingAndGlyphs">Energy (J)</text>
<rect x="746.50" y="123.20" width="64.20" height="22.20" fill="#fff" stroke="#000" stroke-width="1"/>
<rect x="752.40" y="126.80" width="29.9" height="13.6" fill="#00008f" stroke="#000" stroke-width="0.7"/>
<text transform="translate(786.10,139.50) rotate(0.03)" font-size="9.5" textLength="20.2" lengthAdjust="spacingAndGlyphs">HCR</text>
<path d="M615.32 280.40V266.19H617.12V269.29H618.93V267.31H620.74V269.10H622.54V274.14H624.35V268.71H626.16V269.10H627.96V268.27H629.77V267.01H631.58V270.80H633.38V271.19H635.19V273.32H637.00V260.37H638.80V268.27H640.61V267.31H642.42V263.28H644.22V265.37H646.03V262.26H647.84V266.19H649.64V273.32H651.45V269.10H653.26V280.40H655.06V273.32H656.87V266.19H658.68V268.27H660.48V270.36H662.29V264.10H664.10V267.45H665.90V268.27H667.71V273.32H669.52V270.80H671.32V271.62H673.13V269.97H674.94V267.31H676.74V265.37H678.55V277.00H680.36V269.10H682.16V275.79H683.97V267.01H685.78V270.12H687.58V270.12H689.39V269.10H691.20V271.19H693.00V267.89H694.81V273.32H696.62V265.37H698.42V265.37H700.23V267.89H702.04V264.10H703.84V274.58H705.65V274.14H707.46V271.62H709.26V270.80H711.07V263.28H712.88V271.19H714.68V269.97H716.49V267.01H718.30V270.80H720.10V267.89H721.91V271.62H723.72V266.19H725.52V267.89H727.33V258.43H729.14V259.55H730.94V270.12H732.75V265.37H734.56V264.39H736.36V271.19H738.17V260.37H739.98V267.45H741.78V272.06H743.59V268.27H745.40V263.28H747.20V266.19H749.01V268.27H750.82V267.45H752.62V266.19H754.43V269.10H756.24V264.10H758.04V265.37H759.85V259.11H761.66V265.37H763.46V268.27H765.27V266.19H767.08V264.10H768.88V268.27H770.69V270.36H772.50V267.45H774.30V265.37H776.11V265.37H777.92V269.10H779.72V265.37H781.53V263.28H783.34V268.27H785.14V270.36H786.95V271.62H788.76V271.19H790.56V269.97H792.37V274.14H794.18V265.37H795.98V280.40Z" fill="#050570" stroke="#000000" stroke-width="0.95" stroke-linejoin="miter"/>
<path d="M617.12 280.40V269.29M618.93 280.40V269.29M620.74 280.40V269.10M622.54 280.40V274.14M624.35 280.40V274.14M626.16 280.40V269.10M627.96 280.40V269.10M629.77 280.40V268.27M631.58 280.40V270.80M633.38 280.40V271.19M635.19 280.40V273.32M637.00 280.40V273.32M638.80 280.40V268.27M640.61 280.40V268.27M642.42 280.40V267.31M644.22 280.40V265.37M646.03 280.40V265.37M647.84 280.40V266.19M649.64 280.40V273.32M651.45 280.40V273.32M653.26 280.40V280.40M655.06 280.40V280.40M656.87 280.40V273.32M658.68 280.40V268.27M660.48 280.40V270.36M662.29 280.40V270.36M664.10 280.40V267.45M665.90 280.40V268.27M667.71 280.40V273.32M669.52 280.40V273.32M671.32 280.40V271.62M673.13 280.40V271.62M674.94 280.40V269.97M676.74 280.40V267.31M678.55 280.40V277.00M680.36 280.40V277.00M682.16 280.40V275.79M683.97 280.40V275.79M685.78 280.40V270.12M687.58 280.40V270.12M689.39 280.40V270.12M691.20 280.40V271.19M693.00 280.40V271.19M694.81 280.40V273.32M696.62 280.40V273.32M698.42 280.40V265.37M700.23 280.40V267.89M702.04 280.40V267.89M703.84 280.40V274.58M705.65 280.40V274.58M707.46 280.40V274.14M709.26 280.40V271.62M711.07 280.40V270.80M712.88 280.40V271.19M714.68 280.40V271.19M716.49 280.40V269.97M718.30 280.40V270.80M720.10 280.40V270.80M721.91 280.40V271.62M723.72 280.40V271.62M725.52 280.40V267.89M727.33 280.40V267.89M729.14 280.40V259.55M730.94 280.40V270.12M732.75 280.40V270.12M734.56 280.40V265.37M736.36 280.40V271.19M738.17 280.40V271.19M739.98 280.40V267.45M741.78 280.40V272.06M743.59 280.40V272.06M745.40 280.40V268.27M747.20 280.40V266.19M749.01 280.40V268.27M750.82 280.40V268.27M752.62 280.40V267.45M754.43 280.40V269.10M756.24 280.40V269.10M758.04 280.40V265.37M759.85 280.40V265.37M761.66 280.40V265.37M763.46 280.40V268.27M765.27 280.40V268.27M767.08 280.40V266.19M768.88 280.40V268.27M770.69 280.40V270.36M772.50 280.40V270.36M774.30 280.40V267.45M776.11 280.40V265.37M777.92 280.40V269.10M779.72 280.40V269.10M781.53 280.40V265.37M783.34 280.40V268.27M785.14 280.40V270.36M786.95 280.40V271.62M788.76 280.40V271.62M790.56 280.40V271.19M792.37 280.40V274.14M794.18 280.40V274.14" fill="none" stroke="#000000" stroke-width="0.55"/>
<rect x="596.80" y="231.90" width="216.80" height="48.50" fill="none" stroke="#000" stroke-width="1.2"/>
<path d="M614.87 280.40v-2.4M614.87 231.90v2.4M651.00 280.40v-2.4M651.00 231.90v2.4M687.13 280.40v-2.4M687.13 231.90v2.4M723.27 280.40v-2.4M723.27 231.90v2.4M759.40 280.40v-2.4M759.40 231.90v2.4M795.53 280.40v-2.4M795.53 231.90v2.4M596.80 256.15h2.4M813.60 256.15h-2.4" stroke="#000" stroke-width="0.8" fill="none"/>
<text transform="translate(614.87,292.30) rotate(0.03) scale(1,1)" font-size="9.5" text-anchor="middle">0</text>
<text transform="translate(651.00,292.30) rotate(0.03) scale(1,1)" font-size="9.5" text-anchor="middle">20</text>
<text transform="translate(687.13,292.30) rotate(0.03) scale(1,1)" font-size="9.5" text-anchor="middle">40</text>
<text transform="translate(723.27,292.30) rotate(0.03) scale(1,1)" font-size="9.5" text-anchor="middle">60</text>
<text transform="translate(759.40,292.30) rotate(0.03) scale(1,1)" font-size="9.5" text-anchor="middle">80</text>
<text transform="translate(796.23,292.30) rotate(0.03) scale(0.9,1)" font-size="9.5" text-anchor="middle">100</text>
<text transform="translate(593.80,285.80) rotate(0.03) scale(1,1)" font-size="9.5" text-anchor="end">0</text>
<text transform="translate(593.80,261.55) rotate(0.03) scale(1,1)" font-size="9.5" text-anchor="end">0.5</text>
<text transform="translate(593.80,237.30) rotate(0.03) scale(1,1)" font-size="9.5" text-anchor="end">1</text>
<text transform="translate(571.90,259.45) rotate(-90.02)" font-size="12.3" text-anchor="middle" textLength="54.2" lengthAdjust="spacingAndGlyphs">Energy (J)</text>
<rect x="747.20" y="227.60" width="63.50" height="21.90" fill="#fff" stroke="#000" stroke-width="1"/>
<rect x="753.10" y="231.20" width="29.9" height="13.6" fill="#00008f" stroke="#000" stroke-width="0.7"/>
<text transform="translate(786.80,243.90) rotate(0.03)" font-size="9.5" textLength="19.2" lengthAdjust="spacingAndGlyphs">ERP</text>
<path d="M615.32 390.10V373.63H617.12V381.60H618.93V376.54H620.74V368.04H622.54V379.51H624.35V380.32H626.16V373.63H627.96V380.32H629.77V374.74H631.58V377.82H633.38V381.14H635.19V370.89H637.00V371.53H638.80V366.94H640.61V372.00H642.42V374.91H644.22V375.55H646.03V370.89H647.84V376.13H649.64V370.89H651.45V375.72H653.26V373.05H655.06V364.20H656.87V379.51H658.68V373.05H660.48V370.89H662.29V374.04H664.10V370.89H665.90V378.23H667.71V369.03H669.52V384.51H671.32V374.91H673.13V377.82H674.94V387.42H676.74V374.91H678.55V374.91H680.36V373.22H682.16V367.81H683.97V369.90H685.78V376.54H687.58V378.40H689.39V371.53H691.20V376.54H693.00V377.82H694.81V371.53H696.62V378.40H698.42V376.54H700.23V372.81H702.04V377.82H703.84V373.63H705.65V379.51H707.46V380.73H709.26V380.73H711.07V371.53H712.88V371.53H714.68V377.82H716.49V376.54H718.30V376.54H720.10V379.51H721.91V369.90H723.72V370.89H725.52V382.42H727.33V381.60H729.14V387.42H730.94V379.51H732.75V376.54H734.56V370.89H736.36V377.82H738.17V379.04H739.98V371.53H741.78V378.23H743.59V379.51H745.40V383.23H747.20V370.89H749.01V372.81H750.82V376.13H752.62V373.63H754.43V378.23H756.24V379.10H758.04V377.41H759.85V376.13H761.66V374.50H763.46V370.89H765.27V372.81H767.08V378.23H768.88V371.53H770.69V366.94H772.50V365.89H774.30V374.91H776.11V381.14H777.92V374.91H779.72V371.53H781.53V377.41H783.34V377.82H785.14V369.90H786.95V378.23H788.76V376.13H790.56V373.63H792.37V372.00H794.18V370.89H795.98V390.10Z" fill="#050570" stroke="#000000" stroke-width="0.95" stroke-linejoin="miter"/>
<path d="M617.12 390.10V381.60M618.93 390.10V381.60M620.74 390.10V376.54M622.54 390.10V379.51M624.35 390.10V380.32M626.16 390.10V380.32M627.96 390.10V380.32M629.77 390.10V380.32M631.58 390.10V377.82M633.38 390.10V381.14M635.19 390.10V381.14M637.00 390.10V371.53M638.80 390.10V371.53M640.61 390.10V372.00M642.42 390.10V374.91M644.22 390.10V375.55M646.03 390.10V375.55M647.84 390.10V376.13M649.64 390.10V376.13M651.45 390.10V375.72M653.26 390.10V375.72M655.06 390.10V373.05M656.87 390.10V379.51M658.68 390.10V379.51M660.48 390.10V373.05M662.29 390.10V374.04M664.10 390.10V374.04M665.90 390.10V378.23M667.71 390.10V378.23M669.52 390.10V384.51M671.32 390.10V384.51M673.13 390.10V377.82M674.94 390.10V387.42M676.74 390.10V387.42M678.55 390.10V374.91M680.36 390.10V374.91M682.16 390.10V373.22M683.97 390.10V369.90M685.78 390.10V376.54M687.58 390.10V378.40M689.39 390.10V378.40M691.20 390.10V376.54M693.00 390.10V377.82M694.81 390.10V377.82M696.62 390.10V378.40M698.42 390.10V378.40M700.23 390.10V376.54M702.04 390.10V377.82M703.84 390.10V377.82M705.65 390.10V379.51M707.46 390.10V380.73M709.26 390.10V380.73M711.07 390.10V380.73M712.88 390.10V371.53M714.68 390.10V377.82M716.49 390.10V377.82M718.30 390.10V376.54M720.10 390.10V379.51M721.91 390.10V379.51M723.72 390.10V370.89M725.52 390.10V382.42M727.33 390.10V382.42M729.14 390.10V387.42M730.94 390.10V387.42M732.75 390.10V379.51M734.56 390.10V376.54M736.36 390.10V377.82M738.17 390.10V379.04M739.98 390.10V379.04M741.78 390.10V378.23M743.59 390.10V379.51M745.40 390.10V383.23M747.20 390.10V383.23M749.01 390.10V372.81M750.82 390.10V376.13M752.62 390.10V376.13M754.43 390.10V378.23M756.24 390.10V379.10M758.04 390.10V379.10M759.85 390.10V377.41M761.66 390.10V376.13M763.46 390.10V374.50M765.27 390.10V372.81M767.08 390.10V378.23M768.88 390.10V378.23M770.69 390.10V371.53M772.50 390.10V366.94M774.30 390.10V374.91M776.11 390.10V381.14M777.92 390.10V381.14M779.72 390.10V374.91M781.53 390.10V377.41M783.34 390.10V377.82M785.14 390.10V377.82M786.95 390.10V378.23M788.76 390.10V378.23M790.56 390.10V376.13M792.37 390.10V373.63M794.18 390.10V372.00" fill="none" stroke="#000000" stroke-width="0.55"/>
<rect x="596.80" y="331.90" width="216.80" height="58.20" fill="none" stroke="#000" stroke-width="1.2"/>
<path d="M614.87 390.10v-2.4M614.87 331.90v2.4M651.00 390.10v-2.4M651.00 331.90v2.4M687.13 390.10v-2.4M687.13 331.90v2.4M723.27 390.10v-2.4M723.27 331.90v2.4M759.40 390.10v-2.4M759.40 331.90v2.4M795.53 390.10v-2.4M795.53 331.90v2.4M596.80 361.00h2.4M813.60 361.00h-2.4" stroke="#000" stroke-width="0.8" fill="none"/>
<text transform="translate(614.87,401.60) rotate(0.03) scale(1,1)" font-size="9.5" text-anchor="middle">0</text>
<text transform="translate(651.00,401.60) rotate(0.03) scale(1,1)" font-size="9.5" text-anchor="middle">20</text>
<text transform="translate(687.13,401.60) rotate(0.03) scale(1,1)" font-size="9.5" text-anchor="middle">40</text>
<text transform="translate(723.27,401.60) rotate(0.03) scale(1,1)" font-size="9.5" text-anchor="middle">60</text>
<text transform="translate(759.40,401.60) rotate(0.03) scale(1,1)" font-size="9.5" text-anchor="middle">80</text>
<text transform="translate(796.23,401.60) rotate(0.03) scale(0.9,1)" font-size="9.5" text-anchor="middle">100</text>
<text transform="translate(593.80,395.10) rotate(0.03) scale(1,1)" font-size="9.5" text-anchor="end">0</text>
<text transform="translate(593.80,366.00) rotate(0.03) scale(1,1)" font-size="9.5" text-anchor="end">0.5</text>
<text transform="translate(593.80,336.90) rotate(0.03) scale(1,1)" font-size="9.5" text-anchor="end">1</text>
<text transform="translate(571.90,363.30) rotate(-90.02)" font-size="12.3" text-anchor="middle" textLength="54.2" lengthAdjust="spacingAndGlyphs">Energy (J)</text>
<text transform="translate(705.20,418.30) rotate(0.02)" font-size="11.5" text-anchor="middle" textLength="71.7" lengthAdjust="spacingAndGlyphs">Node Number</text>
<rect x="725.50" y="328.80" width="84.00" height="22.60" fill="#fff" stroke="#000" stroke-width="1"/>
<rect x="731.40" y="332.40" width="29.9" height="13.6" fill="#00008f" stroke="#000" stroke-width="0.7"/>
<text transform="translate(765.10,345.10) rotate(0.03)" font-size="9.5" textLength="38.9" lengthAdjust="spacingAndGlyphs">DRESEP</text>
<path d="M615.32 494.90V481.56H617.12V486.52H618.93V477.80H620.74V471.70H622.54V474.84H624.35V473.87H626.16V475.86H627.96V476.09H629.77V476.55H631.58V476.66H633.38V480.54H635.19V477.80H637.00V484.18H638.80V486.12H640.61V484.47H642.42V474.44H644.22V481.56H646.03V474.44H647.84V480.54H649.64V477.80H651.45V485.27H653.26V477.80H655.06V482.76H656.87V476.55H658.68V481.56H660.48V486.12H662.29V484.47H664.10V481.39H665.90V483.21H667.71V479.85H669.52V482.76H671.32V475.86H673.13V478.20H674.94V476.55H676.74V483.21H678.55V478.60H680.36V482.76H682.16V484.47H683.97V478.60H685.78V478.60H687.58V482.76H689.39V478.60H691.20V478.60H693.00V489.03H694.81V487.38H696.62V474.44H698.42V476.55H700.23V483.21H702.04V484.47H703.84V486.12H705.65V482.76H707.46V480.54H709.26V482.36H711.07V483.39H712.88V483.39H714.68V479.85H716.49V478.60H718.30V473.87H720.10V484.47H721.91V475.86H723.72V477.80H725.52V485.27H727.33V483.39H729.14V482.36H730.94V485.27H732.75V485.27H734.56V481.56H736.36V484.47H738.17V478.60H739.98V475.86H741.78V483.21H743.59V469.82H745.40V481.56H747.20V475.86H749.01V486.12H750.82V484.47H752.62V476.55H754.43V479.85H756.24V484.07H758.04V483.21H759.85V480.54H761.66V476.94H763.46V472.78H765.27V480.71H767.08V475.86H768.88V486.12H770.69V477.80H772.50V475.86H774.30V482.36H776.11V476.55H777.92V479.05H779.72V479.68H781.53V481.56H783.34V483.21H785.14V479.45H786.95V488.06H788.76V482.36H790.56V476.55H792.37V485.27H794.18V484.47H795.98V494.90Z" fill="#050570" stroke="#000000" stroke-width="0.95" stroke-linejoin="miter"/>
<path d="M617.12 494.90V486.52M618.93 494.90V486.52M620.74 494.90V477.80M622.54 494.90V474.84M624.35 494.90V474.84M626.16 494.90V475.86M627.96 494.90V476.09M629.77 494.90V476.55M631.58 494.90V476.66M633.38 494.90V480.54M635.19 494.90V480.54M637.00 494.90V484.18M638.80 494.90V486.12M640.61 494.90V486.12M642.42 494.90V484.47M644.22 494.90V481.56M646.03 494.90V481.56M647.84 494.90V480.54M649.64 494.90V480.54M651.45 494.90V485.27M653.26 494.90V485.27M655.06 494.90V482.76M656.87 494.90V482.76M658.68 494.90V481.56M660.48 494.90V486.12M662.29 494.90V486.12M664.10 494.90V484.47M665.90 494.90V483.21M667.71 494.90V483.21M669.52 494.90V482.76M671.32 494.90V482.76M673.13 494.90V478.20M674.94 494.90V478.20M676.74 494.90V483.21M678.55 494.90V483.21M680.36 494.90V482.76M682.16 494.90V484.47M683.97 494.90V484.47M685.78 494.90V478.60M687.58 494.90V482.76M689.39 494.90V482.76M691.20 494.90V478.60M693.00 494.90V489.03M694.81 494.90V489.03M696.62 494.90V487.38M698.42 494.90V476.55M700.23 494.90V483.21M702.04 494.90V484.47M703.84 494.90V486.12M705.65 494.90V486.12M707.46 494.90V482.76M709.26 494.90V482.36M711.07 494.90V483.39M712.88 494.90V483.39M714.68 494.90V483.39M716.49 494.90V479.85M718.30 494.90V478.60M720.10 494.90V484.47M721.91 494.90V484.47M723.72 494.90V477.80M725.52 494.90V485.27M727.33 494.90V485.27M729.14 494.90V483.39M730.94 494.90V485.27M732.75 494.90V485.27M734.56 494.90V485.27M736.36 494.90V484.47M738.17 494.90V484.47M739.98 494.90V478.60M741.78 494.90V483.21M743.59 494.90V483.21M745.40 494.90V481.56M747.20 494.90V481.56M749.01 494.90V486.12M750.82 494.90V486.12M752.62 494.90V484.47M754.43 494.90V479.85M756.24 494.90V484.07M758.04 494.90V484.07M759.85 494.90V483.21M761.66 494.90V480.54M763.46 494.90V476.94M765.27 494.90V480.71M767.08 494.90V480.71M768.88 494.90V486.12M770.69 494.90V486.12M772.50 494.90V477.80M774.30 494.90V482.36M776.11 494.90V482.36M777.92 494.90V479.05M779.72 494.90V479.68M781.53 494.90V481.56M783.34 494.90V483.21M785.14 494.90V483.21M786.95 494.90V488.06M788.76 494.90V488.06M790.56 494.90V482.36M792.37 494.90V485.27M794.18 494.90V485.27" fill="none" stroke="#000000" stroke-width="0.55"/>
<rect x="596.80" y="437.90" width="216.80" height="57.00" fill="none" stroke="#000" stroke-width="1.2"/>
<path d="M614.87 494.90v-2.4M614.87 437.90v2.4M651.00 494.90v-2.4M651.00 437.90v2.4M687.13 494.90v-2.4M687.13 437.90v2.4M723.27 494.90v-2.4M723.27 437.90v2.4M759.40 494.90v-2.4M759.40 437.90v2.4M795.53 494.90v-2.4M795.53 437.90v2.4M596.80 466.40h2.4M813.60 466.40h-2.4" stroke="#000" stroke-width="0.8" fill="none"/>
<text transform="translate(614.87,506.40) rotate(0.03) scale(1,1)" font-size="9.5" text-anchor="middle">0</text>
<text transform="translate(651.00,506.40) rotate(0.03) scale(1,1)" font-size="9.5" text-anchor="middle">20</text>
<text transform="translate(687.13,506.40) rotate(0.03) scale(1,1)" font-size="9.5" text-anchor="middle">40</text>
<text transform="translate(723.27,506.40) rotate(0.03) scale(1,1)" font-size="9.5" text-anchor="middle">60</text>
<text transform="translate(759.40,506.40) rotate(0.03) scale(1,1)" font-size="9.5" text-anchor="middle">80</text>
<text transform="translate(796.23,506.40) rotate(0.03) scale(0.9,1)" font-size="9.5" text-anchor="middle">100</text>
<text transform="translate(593.80,499.90) rotate(0.03) scale(1,1)" font-size="9.5" text-anchor="end">0</text>
<text transform="translate(593.80,471.40) rotate(0.03) scale(1,1)" font-size="9.5" text-anchor="end">0.5</text>
<text transform="translate(593.80,442.90) rotate(0.03) scale(1,1)" font-size="9.5" text-anchor="end">1</text>
<text transform="translate(571.90,468.70) rotate(-90.02)" font-size="12.3" text-anchor="middle" textLength="54.2" lengthAdjust="spacingAndGlyphs">Energy (J)</text>
<text transform="translate(705.20,523.10) rotate(0.02)" font-size="11.5" text-anchor="middle" textLength="71.7" lengthAdjust="spacingAndGlyphs">Node Number</text>
<rect x="718.60" y="435.10" width="91.90" height="22.30" fill="#fff" stroke="#000" stroke-width="1"/>
<rect x="724.50" y="438.70" width="29.9" height="13.6" fill="#00008f" stroke="#000" stroke-width="0.7"/>
<text transform="translate(758.20,451.40) rotate(0.03)" font-size="9.5" textLength="46.7" lengthAdjust="spacingAndGlyphs">SMOTECP</text>
</g></svg></body></html>
